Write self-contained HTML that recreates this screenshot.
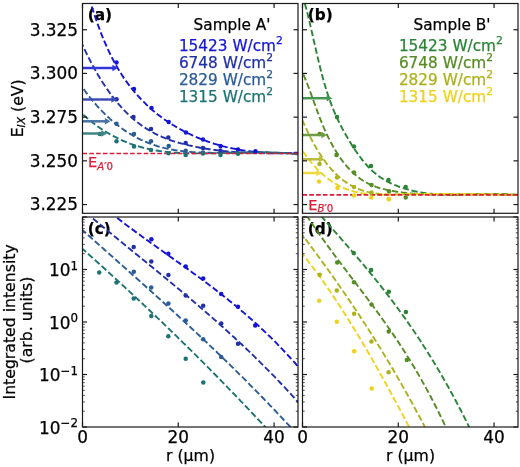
<!DOCTYPE html>
<html><head><meta charset="utf-8"><style>
html,body{margin:0;padding:0;background:#fff;}
svg{display:block;}
</style></head><body>
<svg width="520" height="467" viewBox="0 0 520 467" font-family="'DejaVu Sans', 'Liberation Sans', sans-serif">
<style>text{stroke-width:0.25px;}</style>
<rect width="520" height="467" fill="#fff"/>
<defs>
<clipPath id="ca"><rect x="82.50" y="3.50" width="215.50" height="209.80"/></clipPath>
<clipPath id="cb"><rect x="302.50" y="3.50" width="215.50" height="209.80"/></clipPath>
<clipPath id="cc"><rect x="82.50" y="217.00" width="215.50" height="210.00"/></clipPath>
<clipPath id="cd"><rect x="302.50" y="217.00" width="215.50" height="210.00"/></clipPath>
</defs>
<text x="87.80" y="20.40" font-size="15.30" text-anchor="start" fill="#000" stroke="#000" font-weight="bold" >(a)</text>
<text x="307.70" y="20.40" font-size="15.30" text-anchor="start" fill="#000" stroke="#000" font-weight="bold" >(b)</text>
<text x="87.80" y="233.70" font-size="15.30" text-anchor="start" fill="#000" stroke="#000" font-weight="bold" >(c)</text>
<text x="307.70" y="233.70" font-size="15.30" text-anchor="start" fill="#000" stroke="#000" font-weight="bold" >(d)</text>
<g clip-path="url(#ca)" fill="none" stroke-width="1.90" stroke-dasharray="6.3 2.8">
<path d="M89.1,-2.2 L91.5,5.5 L92.5,8.7 L93.5,11.8 L94.5,14.8 L95.5,17.8 L96.5,20.7 L97.5,23.6 L98.5,26.3 L99.5,29.0 L100.5,31.7 L101.5,34.3 L102.5,36.8 L103.5,39.2 L104.5,41.6 L105.5,43.9 L106.5,46.2 L107.5,48.4 L108.5,50.6 L109.5,52.7 L110.5,54.8 L111.5,56.8 L112.5,58.7 L113.5,60.6 L114.5,62.5 L115.5,64.3 L116.5,66.1 L117.5,67.8 L118.5,69.5 L119.5,71.2 L120.5,72.8 L121.5,74.3 L122.5,75.9 L123.5,77.4 L124.5,78.8 L125.5,80.3 L126.5,81.7 L127.5,83.0 L128.5,84.4 L129.5,85.7 L130.5,87.0 L131.5,88.2 L132.5,89.5 L133.5,90.7 L134.5,91.9 L135.5,93.0 L136.5,94.2 L137.5,95.3 L138.5,96.4 L139.5,97.5 L140.5,98.6 L141.5,99.7 L142.5,100.7 L143.5,101.7 L144.5,102.7 L145.5,103.7 L146.5,104.7 L147.5,105.6 L148.5,106.6 L149.5,107.5 L150.5,108.4 L151.5,109.3 L152.5,110.1 L153.5,111.0 L154.5,111.8 L155.5,112.6 L156.5,113.5 L157.5,114.3 L158.5,115.0 L159.5,115.8 L160.5,116.6 L161.5,117.3 L162.5,118.0 L163.5,118.8 L164.5,119.5 L165.5,120.2 L166.5,120.8 L167.5,121.5 L168.5,122.2 L169.5,122.8 L170.5,123.5 L171.5,124.1 L172.5,124.7 L173.5,125.3 L174.5,125.9 L175.5,126.5 L176.5,127.1 L177.5,127.7 L178.5,128.2 L179.5,128.8 L180.5,129.4 L181.5,129.9 L182.5,130.4 L183.5,131.0 L184.5,131.5 L185.5,132.0 L186.5,132.5 L187.5,133.0 L188.5,133.5 L189.5,134.0 L190.5,134.5 L191.5,134.9 L192.5,135.4 L193.5,135.8 L194.5,136.3 L195.5,136.7 L196.5,137.2 L197.5,137.6 L198.5,138.0 L199.5,138.4 L200.5,138.8 L201.5,139.2 L202.5,139.6 L203.5,140.0 L204.5,140.4 L205.5,140.7 L206.5,141.1 L207.5,141.5 L208.5,141.8 L209.5,142.2 L210.5,142.5 L211.5,142.8 L212.5,143.2 L213.5,143.5 L214.5,143.8 L215.5,144.1 L216.5,144.4 L217.5,144.7 L218.5,145.0 L219.5,145.3 L220.5,145.6 L221.5,145.8 L222.5,146.1 L223.5,146.4 L224.5,146.6 L225.5,146.9 L226.5,147.1 L227.5,147.3 L228.5,147.6 L229.5,147.8 L230.5,148.0 L231.5,148.2 L232.5,148.4 L233.5,148.6 L234.5,148.8 L235.5,149.0 L236.5,149.2 L237.5,149.4 L238.5,149.6 L239.5,149.8 L240.5,149.9 L241.5,150.1 L242.5,150.3 L243.5,150.4 L244.5,150.6 L245.5,150.7 L246.5,150.8 L247.5,151.0 L248.5,151.1 L249.5,151.2 L250.5,151.4 L251.5,151.5 L252.5,151.6 L253.5,151.7 L254.5,151.8 L255.5,151.9 L256.5,152.0 L257.5,152.1 L258.5,152.2 L259.5,152.2 L260.5,152.3 L261.5,152.4 L262.5,152.5 L263.5,152.5 L264.5,152.6 L265.5,152.6 L266.5,152.7 L267.5,152.7 L268.5,152.8 L269.5,152.8 L270.5,152.9 L271.5,152.9 L272.5,152.9 L273.5,153.0 L274.5,153.0 L275.5,153.0 L276.5,153.0 L277.5,153.0 L278.5,153.1 L279.5,153.1 L280.5,153.1 L281.5,153.1 L282.5,153.1 L283.5,153.1 L284.5,153.1 L285.5,153.0 L286.5,153.0 L287.5,153.0 L288.5,153.0 L289.5,153.0 L290.5,152.9 L291.5,152.9 L292.5,152.9 L293.5,152.9 L294.5,152.8 L295.5,152.8 L296.5,152.7 L297.5,152.7 L298.0,152.7 L306.0,152.3" stroke="#1414d6"/>
<path d="M80.6,40.9 L84.0,48.2 L85.0,50.3 L86.0,52.4 L87.0,54.4 L88.0,56.4 L89.0,58.4 L90.0,60.3 L91.0,62.3 L92.0,64.2 L93.0,66.0 L94.0,67.8 L95.0,69.6 L96.0,71.4 L97.0,73.1 L98.0,74.9 L99.0,76.5 L100.0,78.2 L101.0,79.8 L102.0,81.4 L103.0,83.0 L104.0,84.5 L105.0,86.0 L106.0,87.5 L107.0,89.0 L108.0,90.4 L109.0,91.8 L110.0,93.2 L111.0,94.6 L112.0,95.9 L113.0,97.2 L114.0,98.5 L115.0,99.8 L116.0,101.0 L117.0,102.2 L118.0,103.4 L119.0,104.6 L120.0,105.7 L121.0,106.9 L122.0,108.0 L123.0,109.0 L124.0,110.1 L125.0,111.1 L126.0,112.1 L127.0,113.1 L128.0,114.1 L129.0,115.1 L130.0,116.0 L131.0,116.9 L132.0,117.8 L133.0,118.7 L134.0,119.5 L135.0,120.4 L136.0,121.2 L137.0,122.0 L138.0,122.8 L139.0,123.5 L140.0,124.3 L141.0,125.0 L142.0,125.7 L143.0,126.4 L144.0,127.1 L145.0,127.7 L146.0,128.4 L147.0,129.0 L148.0,129.6 L149.0,130.2 L150.0,130.8 L151.0,131.4 L152.0,132.0 L153.0,132.5 L154.0,133.0 L155.0,133.6 L156.0,134.1 L157.0,134.6 L158.0,135.1 L159.0,135.5 L160.0,136.0 L161.0,136.4 L162.0,136.9 L163.0,137.3 L164.0,137.7 L165.0,138.1 L166.0,138.5 L167.0,138.9 L168.0,139.3 L169.0,139.6 L170.0,140.0 L171.0,140.3 L172.0,140.7 L173.0,141.0 L174.0,141.3 L175.0,141.6 L176.0,141.9 L177.0,142.2 L178.0,142.5 L179.0,142.8 L180.0,143.1 L181.0,143.4 L182.0,143.6 L183.0,143.9 L184.0,144.2 L185.0,144.4 L186.0,144.7 L187.0,144.9 L188.0,145.1 L189.0,145.4 L190.0,145.6 L191.0,145.8 L192.0,146.0 L193.0,146.3 L194.0,146.5 L195.0,146.7 L196.0,146.9 L197.0,147.1 L198.0,147.3 L199.0,147.5 L200.0,147.7 L201.0,147.9 L202.0,148.0 L203.0,148.2 L204.0,148.4 L205.0,148.5 L206.0,148.7 L207.0,148.9 L208.0,149.0 L209.0,149.2 L210.0,149.3 L211.0,149.5 L212.0,149.6 L213.0,149.8 L214.0,149.9 L215.0,150.0 L216.0,150.2 L217.0,150.3 L218.0,150.4 L219.0,150.5 L220.0,150.6 L221.0,150.8 L222.0,150.9 L223.0,151.0 L224.0,151.1 L225.0,151.2 L226.0,151.3 L227.0,151.4 L228.0,151.5 L229.0,151.5 L230.0,151.6 L231.0,151.7 L232.0,151.8 L233.0,151.9 L234.0,151.9 L235.0,152.0 L236.0,152.1 L237.0,152.2 L238.0,152.2 L239.0,152.3 L240.0,152.3 L241.0,152.4 L242.0,152.5 L243.0,152.5 L244.0,152.6 L245.0,152.6 L246.0,152.6 L247.0,152.7 L248.0,152.7 L249.0,152.8 L250.0,152.8 L251.0,152.8 L252.0,152.9 L253.0,152.9 L254.0,152.9 L255.0,153.0 L256.0,153.0 L257.0,153.0 L258.0,153.0 L259.0,153.1 L260.0,153.1 L261.0,153.1 L262.0,153.1 L263.0,153.1 L264.0,153.1 L265.0,153.2 L266.0,153.2 L267.0,153.2 L268.0,153.2 L269.0,153.2 L270.0,153.2 L271.0,153.2 L272.0,153.2 L273.0,153.2 L274.0,153.2 L275.0,153.2 L276.0,153.2 L277.0,153.2 L278.0,153.2 L279.0,153.2 L280.0,153.2 L281.0,153.2 L282.0,153.2 L283.0,153.2 L284.0,153.2 L285.0,153.2 L286.0,153.2 L287.0,153.2 L288.0,153.1 L289.0,153.1 L290.0,153.1 L291.0,153.1 L292.0,153.1 L293.0,153.1 L294.0,153.1 L295.0,153.1 L296.0,153.1 L297.0,153.0 L298.0,153.0 L306.0,152.9" stroke="#2030a8"/>
<path d="M78.3,81.8 L83.0,88.2 L84.0,89.6 L85.0,91.0 L86.0,92.3 L87.0,93.6 L88.0,94.9 L89.0,96.2 L90.0,97.5 L91.0,98.7 L92.0,99.9 L93.0,101.1 L94.0,102.3 L95.0,103.5 L96.0,104.6 L97.0,105.8 L98.0,106.9 L99.0,108.0 L100.0,109.0 L101.0,110.1 L102.0,111.1 L103.0,112.2 L104.0,113.2 L105.0,114.2 L106.0,115.1 L107.0,116.1 L108.0,117.0 L109.0,117.9 L110.0,118.9 L111.0,119.7 L112.0,120.6 L113.0,121.5 L114.0,122.3 L115.0,123.2 L116.0,124.0 L117.0,124.8 L118.0,125.6 L119.0,126.3 L120.0,127.1 L121.0,127.8 L122.0,128.5 L123.0,129.3 L124.0,129.9 L125.0,130.6 L126.0,131.3 L127.0,132.0 L128.0,132.6 L129.0,133.2 L130.0,133.8 L131.0,134.4 L132.0,135.0 L133.0,135.6 L134.0,136.2 L135.0,136.7 L136.0,137.3 L137.0,137.8 L138.0,138.3 L139.0,138.8 L140.0,139.3 L141.0,139.8 L142.0,140.2 L143.0,140.7 L144.0,141.1 L145.0,141.6 L146.0,142.0 L147.0,142.4 L148.0,142.8 L149.0,143.2 L150.0,143.6 L151.0,143.9 L152.0,144.3 L153.0,144.7 L154.0,145.0 L155.0,145.3 L156.0,145.6 L157.0,146.0 L158.0,146.3 L159.0,146.6 L160.0,146.8 L161.0,147.1 L162.0,147.4 L163.0,147.6 L164.0,147.9 L165.0,148.1 L166.0,148.4 L167.0,148.6 L168.0,148.8 L169.0,149.0 L170.0,149.2 L171.0,149.4 L172.0,149.6 L173.0,149.8 L174.0,150.0 L175.0,150.1 L176.0,150.3 L177.0,150.4 L178.0,150.6 L179.0,150.7 L180.0,150.9 L181.0,151.0 L182.0,151.1 L183.0,151.2 L184.0,151.4 L185.0,151.5 L186.0,151.6 L187.0,151.7 L188.0,151.8 L189.0,151.8 L190.0,151.9 L191.0,152.0 L192.0,152.1 L193.0,152.1 L194.0,152.2 L195.0,152.3 L196.0,152.3 L197.0,152.4 L198.0,152.4 L199.0,152.5 L200.0,152.5 L201.0,152.6 L202.0,152.6 L203.0,152.6 L204.0,152.7 L205.0,152.7 L206.0,152.7 L207.0,152.8 L208.0,152.8 L209.0,152.8 L210.0,152.8 L211.0,152.8 L212.0,152.9 L213.0,152.9 L214.0,152.9 L215.0,152.9 L216.0,152.9 L217.0,152.9 L218.0,152.9 L219.0,152.9 L220.0,152.9 L221.0,152.9 L222.0,152.9 L223.0,152.9 L224.0,152.9 L225.0,152.9 L226.0,152.9 L227.0,152.8 L228.0,152.8 L229.0,152.8 L230.0,152.8 L231.0,152.8 L232.0,152.8 L233.0,152.8 L234.0,152.8 L235.0,152.7 L236.0,152.7 L237.0,152.7 L238.0,152.7 L239.0,152.7 L240.0,152.7 L241.0,152.6 L242.0,152.6 L243.0,152.6 L244.0,152.6 L245.0,152.6 L246.0,152.6 L247.0,152.5 L248.0,152.5 L249.0,152.5 L250.0,152.5 L251.0,152.5 L252.0,152.5 L253.0,152.5 L254.0,152.5 L255.0,152.4 L256.0,152.4 L257.0,152.4 L258.0,152.4 L259.0,152.4 L260.0,152.4 L261.0,152.4 L262.0,152.4 L263.0,152.4 L264.0,152.4 L265.0,152.4 L266.0,152.5 L267.0,152.5 L268.0,152.5 L269.0,152.5 L270.0,152.5 L271.0,152.5 L272.0,152.5 L273.0,152.6 L274.0,152.6 L275.0,152.6 L276.0,152.7 L277.0,152.7 L278.0,152.7 L279.0,152.8 L280.0,152.8 L281.0,152.9 L282.0,152.9 L283.0,153.0 L284.0,153.0 L285.0,153.1 L286.0,153.1 L287.0,153.2 L288.0,153.3 L289.0,153.4 L290.0,153.4 L291.0,153.5 L292.0,153.6 L293.0,153.7 L294.0,153.8 L295.0,153.9 L296.0,154.0 L297.0,154.1 L298.0,154.2 L305.9,155.1" stroke="#2a5c98"/>
<path d="M76.6,108.6 L82.5,114.0 L83.5,115.0 L84.5,115.8 L85.5,116.7 L86.5,117.6 L87.5,118.4 L88.5,119.3 L89.5,120.1 L90.5,120.9 L91.5,121.7 L92.5,122.5 L93.5,123.3 L94.5,124.0 L95.5,124.8 L96.5,125.5 L97.5,126.3 L98.5,127.0 L99.5,127.7 L100.5,128.4 L101.5,129.0 L102.5,129.7 L103.5,130.3 L104.5,131.0 L105.5,131.6 L106.5,132.2 L107.5,132.8 L108.5,133.4 L109.5,134.0 L110.5,134.6 L111.5,135.1 L112.5,135.7 L113.5,136.2 L114.5,136.7 L115.5,137.2 L116.5,137.7 L117.5,138.2 L118.5,138.7 L119.5,139.2 L120.5,139.7 L121.5,140.1 L122.5,140.6 L123.5,141.0 L124.5,141.4 L125.5,141.8 L126.5,142.2 L127.5,142.6 L128.5,143.0 L129.5,143.4 L130.5,143.8 L131.5,144.1 L132.5,144.5 L133.5,144.8 L134.5,145.1 L135.5,145.5 L136.5,145.8 L137.5,146.1 L138.5,146.4 L139.5,146.7 L140.5,147.0 L141.5,147.2 L142.5,147.5 L143.5,147.8 L144.5,148.0 L145.5,148.3 L146.5,148.5 L147.5,148.7 L148.5,149.0 L149.5,149.2 L150.5,149.4 L151.5,149.6 L152.5,149.8 L153.5,150.0 L154.5,150.2 L155.5,150.3 L156.5,150.5 L157.5,150.7 L158.5,150.8 L159.5,151.0 L160.5,151.1 L161.5,151.3 L162.5,151.4 L163.5,151.5 L164.5,151.7 L165.5,151.8 L166.5,151.9 L167.5,152.0 L168.5,152.1 L169.5,152.2 L170.5,152.3 L171.5,152.4 L172.5,152.5 L173.5,152.5 L174.5,152.6 L175.5,152.7 L176.5,152.8 L177.5,152.8 L178.5,152.9 L179.5,152.9 L180.5,153.0 L181.5,153.0 L182.5,153.1 L183.5,153.1 L184.5,153.2 L185.5,153.2 L186.5,153.2 L187.5,153.2 L188.5,153.3 L189.5,153.3 L190.5,153.3 L191.5,153.3 L192.5,153.3 L193.5,153.4 L194.5,153.4 L195.5,153.4 L196.5,153.4 L197.5,153.4 L198.5,153.4 L199.5,153.4 L200.5,153.4 L201.5,153.4 L202.5,153.4 L203.5,153.4 L204.5,153.4 L205.5,153.4 L206.5,153.3 L207.5,153.3 L208.5,153.3 L209.5,153.3 L210.5,153.3 L211.5,153.3 L212.5,153.2 L213.5,153.2 L214.5,153.2 L215.5,153.2 L216.5,153.2 L217.5,153.1 L218.5,153.1 L219.5,153.1 L220.5,153.1 L221.5,153.0 L222.5,153.0 L223.5,153.0 L224.5,153.0 L225.5,152.9 L226.5,152.9 L227.5,152.9 L228.5,152.8 L229.5,152.8 L230.5,152.8 L231.5,152.8 L232.5,152.7 L233.5,152.7 L234.5,152.7 L235.5,152.7 L236.5,152.6 L237.5,152.6 L238.5,152.6 L239.5,152.6 L240.5,152.5 L241.5,152.5 L242.5,152.5 L243.5,152.5 L244.5,152.4 L245.5,152.4 L246.5,152.4 L247.5,152.4 L248.5,152.4 L249.5,152.4 L250.5,152.3 L251.5,152.3 L252.5,152.3 L253.5,152.3 L254.5,152.3 L255.5,152.3 L256.5,152.3 L257.5,152.3 L258.5,152.3 L259.5,152.3 L260.5,152.3 L261.5,152.3 L262.5,152.3 L263.5,152.3 L264.5,152.3 L265.5,152.3 L266.5,152.4 L267.5,152.4 L268.5,152.4 L269.5,152.4 L270.5,152.4 L271.5,152.5 L272.5,152.5 L273.5,152.5 L274.5,152.6 L275.5,152.6 L276.5,152.6 L277.5,152.7 L278.5,152.7 L279.5,152.8 L280.5,152.8 L281.5,152.9 L282.5,153.0 L283.5,153.0 L284.5,153.1 L285.5,153.2 L286.5,153.2 L287.5,153.3 L288.5,153.4 L289.5,153.5 L290.5,153.6 L291.5,153.7 L292.5,153.8 L293.5,153.9 L294.5,154.0 L295.5,154.1 L296.5,154.2 L297.5,154.3 L298.0,154.4 L305.9,155.4" stroke="#1d7373"/>
</g>
<line x1="82.50" y1="153.50" x2="298.00" y2="153.50" stroke="#dc1c38" stroke-width="1.6" stroke-dasharray="4.6 2.2"/>
<g clip-path="url(#ca)">
<circle cx="116.50" cy="62.50" r="2.25" fill="#1414d6"/>
<circle cx="134.00" cy="89.00" r="2.25" fill="#1414d6"/>
<circle cx="151.50" cy="108.00" r="2.25" fill="#1414d6"/>
<circle cx="168.70" cy="122.00" r="2.25" fill="#1414d6"/>
<circle cx="186.00" cy="132.50" r="2.25" fill="#1414d6"/>
<circle cx="203.00" cy="139.50" r="2.25" fill="#1414d6"/>
<circle cx="220.50" cy="146.00" r="2.25" fill="#1414d6"/>
<circle cx="238.00" cy="149.50" r="2.25" fill="#1414d6"/>
<circle cx="255.50" cy="151.30" r="2.25" fill="#1414d6"/>
<circle cx="116.50" cy="99.30" r="2.25" fill="#2030a8"/>
<circle cx="133.50" cy="117.00" r="2.25" fill="#2030a8"/>
<circle cx="151.00" cy="129.00" r="2.25" fill="#2030a8"/>
<circle cx="168.30" cy="137.50" r="2.25" fill="#2030a8"/>
<circle cx="185.70" cy="143.00" r="2.25" fill="#2030a8"/>
<circle cx="203.00" cy="148.00" r="2.25" fill="#2030a8"/>
<circle cx="220.50" cy="150.50" r="2.25" fill="#2030a8"/>
<circle cx="116.50" cy="123.80" r="2.25" fill="#2a5c98"/>
<circle cx="134.00" cy="134.00" r="2.25" fill="#2a5c98"/>
<circle cx="151.00" cy="141.30" r="2.25" fill="#2a5c98"/>
<circle cx="168.70" cy="146.00" r="2.25" fill="#2a5c98"/>
<circle cx="185.70" cy="150.80" r="2.25" fill="#2a5c98"/>
<circle cx="203.00" cy="152.50" r="2.25" fill="#2a5c98"/>
<circle cx="99.80" cy="134.00" r="2.25" fill="#1d7373"/>
<circle cx="116.50" cy="141.30" r="2.25" fill="#1d7373"/>
<circle cx="134.00" cy="146.50" r="2.25" fill="#1d7373"/>
<circle cx="151.00" cy="150.00" r="2.25" fill="#1d7373"/>
<circle cx="168.50" cy="153.20" r="2.25" fill="#1d7373"/>
<circle cx="185.70" cy="155.00" r="2.25" fill="#1d7373"/>
<circle cx="203.00" cy="153.50" r="2.25" fill="#1d7373"/>
<circle cx="220.50" cy="155.00" r="2.25" fill="#1d7373"/>
<circle cx="238.00" cy="153.80" r="2.25" fill="#1d7373"/>
</g>
<line x1="82.50" y1="68.00" x2="113.40" y2="68.00" stroke="#3434db" stroke-width="2.5"/>
<path d="M112.40,64.80 L118.00,68.00 L112.40,71.20 Z" fill="#3434db"/>
<line x1="82.50" y1="99.50" x2="112.40" y2="99.50" stroke="#3f4cb4" stroke-width="2.5"/>
<path d="M111.40,96.30 L117.00,99.50 L111.40,102.70 Z" fill="#3f4cb4"/>
<line x1="82.50" y1="121.30" x2="105.90" y2="121.30" stroke="#4772a6" stroke-width="2.5"/>
<path d="M104.90,118.10 L110.50,121.30 L104.90,124.50 Z" fill="#4772a6"/>
<line x1="82.50" y1="133.50" x2="102.40" y2="133.50" stroke="#3c8686" stroke-width="2.5"/>
<path d="M101.40,130.30 L107.00,133.50 L101.40,136.70 Z" fill="#3c8686"/>
<g clip-path="url(#cb)" fill="none" stroke-width="1.90" stroke-dasharray="6.3 2.8">
<path d="M302.3,-5.4 L304.5,2.3 L305.5,5.9 L306.5,9.7 L307.5,13.6 L308.5,17.7 L309.5,21.8 L310.5,26.1 L311.5,30.4 L312.5,34.8 L313.5,39.2 L314.5,43.6 L315.5,47.9 L316.5,52.3 L317.5,56.6 L318.5,60.8 L319.5,64.9 L320.5,68.9 L321.5,72.8 L322.5,76.6 L323.5,80.3 L324.5,83.8 L325.5,87.2 L326.5,90.4 L327.5,93.5 L328.5,96.5 L329.5,99.4 L330.5,102.2 L331.5,104.8 L332.5,107.4 L333.5,109.9 L334.5,112.3 L335.5,114.6 L336.5,116.8 L337.5,119.0 L338.5,121.1 L339.5,123.1 L340.5,125.1 L341.5,127.0 L342.5,128.9 L343.5,130.7 L344.5,132.5 L345.5,134.3 L346.5,136.1 L347.5,137.8 L348.5,139.5 L349.5,141.2 L350.5,142.8 L351.5,144.4 L352.5,146.0 L353.5,147.5 L354.5,149.1 L355.5,150.6 L356.5,152.0 L357.5,153.4 L358.5,154.8 L359.5,156.2 L360.5,157.5 L361.5,158.8 L362.5,160.1 L363.5,161.4 L364.5,162.6 L365.5,163.7 L366.5,164.9 L367.5,166.0 L368.5,167.0 L369.5,168.1 L370.5,169.1 L371.5,170.0 L372.5,171.0 L373.5,171.9 L374.5,172.8 L375.5,173.6 L376.5,174.4 L377.5,175.2 L378.5,175.9 L379.5,176.7 L380.5,177.4 L381.5,178.0 L382.5,178.7 L383.5,179.3 L384.5,179.9 L385.5,180.5 L386.5,181.1 L387.5,181.6 L388.5,182.1 L389.5,182.6 L390.5,183.1 L391.5,183.6 L392.5,184.1 L393.5,184.5 L394.5,184.9 L395.5,185.3 L396.5,185.7 L397.5,186.1 L398.5,186.5 L399.5,186.9 L400.5,187.2 L401.5,187.6 L402.5,187.9 L403.5,188.2 L404.5,188.6 L405.5,188.9 L406.5,189.2 L407.5,189.4 L408.5,189.7 L409.5,190.0 L410.5,190.2 L411.5,190.5 L412.5,190.7 L413.5,191.0 L414.5,191.2 L415.5,191.4 L416.5,191.6 L417.5,191.8 L418.5,192.0 L419.5,192.2 L420.5,192.4 L421.5,192.5 L422.5,192.7 L423.5,192.9 L424.5,193.0 L425.5,193.1 L426.5,193.3 L427.5,193.4 L428.5,193.5 L429.5,193.6 L430.5,193.7 L431.5,193.8 L432.5,193.9 L433.5,194.0 L434.5,194.1 L435.5,194.2 L436.5,194.3 L437.5,194.3 L438.5,194.4 L439.5,194.4 L440.5,194.5 L441.5,194.5 L442.5,194.6 L443.5,194.6 L444.5,194.7 L445.5,194.7 L446.5,194.7 L447.5,194.7 L448.5,194.8 L449.5,194.8 L450.5,194.8 L451.5,194.8 L452.5,194.8 L453.5,194.8 L454.5,194.8 L455.5,194.8 L456.5,194.8 L457.5,194.8 L458.5,194.8 L459.5,194.7 L460.5,194.7 L461.5,194.7 L462.5,194.7 L463.5,194.7 L464.5,194.7 L465.5,194.6 L466.5,194.6 L467.5,194.6 L468.5,194.6 L469.5,194.5 L470.5,194.5 L471.5,194.5 L472.5,194.4 L473.5,194.4 L474.5,194.4 L475.5,194.4 L476.5,194.3 L477.5,194.3 L478.5,194.3 L479.5,194.2 L480.5,194.2 L481.5,194.2 L482.5,194.2 L483.5,194.1 L484.5,194.1 L485.5,194.1 L486.5,194.1 L487.5,194.1 L488.5,194.1 L489.5,194.0 L490.5,194.0 L491.5,194.0 L492.5,194.0 L493.5,194.0 L494.5,194.0 L495.5,194.0 L496.5,194.0 L497.5,194.0 L498.5,194.0 L499.5,194.1 L500.5,194.1 L501.5,194.1 L502.5,194.1 L503.5,194.2 L504.5,194.2 L505.5,194.2 L506.5,194.3 L507.5,194.3 L508.5,194.4 L509.5,194.5 L510.5,194.5 L511.5,194.6 L512.5,194.7 L513.5,194.7 L514.5,194.8 L515.5,194.9 L516.5,195.0 L517.5,195.1 L518.0,195.2 L526.0,196.0" stroke="#2a8436"/>
<path d="M299.6,66.2 L302.9,73.5 L303.9,75.7 L304.9,78.1 L305.9,80.5 L306.9,83.0 L307.9,85.5 L308.9,88.2 L309.9,90.8 L310.9,93.6 L311.9,96.3 L312.9,99.1 L313.9,101.8 L314.9,104.6 L315.9,107.3 L316.9,110.1 L317.9,112.8 L318.9,115.5 L319.9,118.1 L320.9,120.6 L321.9,123.1 L322.9,125.5 L323.9,127.9 L324.9,130.1 L325.9,132.3 L326.9,134.5 L327.9,136.6 L328.9,138.6 L329.9,140.6 L330.9,142.5 L331.9,144.3 L332.9,146.1 L333.9,147.9 L334.9,149.6 L335.9,151.2 L336.9,152.8 L337.9,154.4 L338.9,155.9 L339.9,157.3 L340.9,158.8 L341.9,160.1 L342.9,161.5 L343.9,162.8 L344.9,164.0 L345.9,165.2 L346.9,166.4 L347.9,167.5 L348.9,168.6 L349.9,169.7 L350.9,170.7 L351.9,171.7 L352.9,172.7 L353.9,173.6 L354.9,174.5 L355.9,175.3 L356.9,176.2 L357.9,177.0 L358.9,177.7 L359.9,178.5 L360.9,179.2 L361.9,179.8 L362.9,180.5 L363.9,181.1 L364.9,181.7 L365.9,182.3 L366.9,182.8 L367.9,183.4 L368.9,183.9 L369.9,184.3 L370.9,184.8 L371.9,185.2 L372.9,185.7 L373.9,186.1 L374.9,186.4 L375.9,186.8 L376.9,187.1 L377.9,187.5 L378.9,187.8 L379.9,188.1 L380.9,188.4 L381.9,188.7 L382.9,188.9 L383.9,189.2 L384.9,189.4 L385.9,189.6 L386.9,189.9 L387.9,190.1 L388.9,190.3 L389.9,190.5 L390.9,190.7 L391.9,190.9 L392.9,191.0 L393.9,191.2 L394.9,191.4 L395.9,191.5 L396.9,191.7 L397.9,191.9 L398.9,192.0 L399.9,192.2 L400.9,192.3 L401.9,192.4 L402.9,192.6 L403.9,192.7 L404.9,192.8 L405.9,192.9 L406.9,193.0 L407.9,193.1 L408.9,193.2 L409.9,193.3 L410.9,193.4 L411.9,193.5 L412.9,193.6 L413.9,193.7 L414.9,193.8 L415.9,193.9 L416.9,193.9 L417.9,194.0 L418.9,194.1 L419.9,194.1 L420.9,194.2 L421.9,194.2 L422.9,194.3 L423.9,194.3 L424.9,194.4 L425.9,194.4 L426.9,194.5 L427.9,194.5 L428.9,194.5 L429.9,194.6 L430.9,194.6 L431.9,194.6 L432.9,194.6 L433.9,194.7 L434.9,194.7 L435.9,194.7 L436.9,194.7 L437.9,194.7 L438.9,194.7 L439.9,194.7 L440.9,194.7 L441.9,194.7 L442.9,194.7 L443.9,194.7 L444.9,194.7 L445.9,194.7 L446.9,194.7 L447.9,194.7 L448.9,194.7 L449.9,194.7 L450.9,194.7 L451.9,194.7 L452.9,194.7 L453.9,194.7 L454.9,194.6 L455.9,194.6 L456.9,194.6 L457.9,194.6 L458.9,194.6 L459.9,194.6 L460.9,194.5 L461.9,194.5 L462.9,194.5 L463.9,194.5 L464.9,194.5 L465.9,194.4 L466.9,194.4 L467.9,194.4 L468.9,194.4 L469.9,194.4 L470.9,194.3 L471.9,194.3 L472.9,194.3 L473.9,194.3 L474.9,194.3 L475.9,194.2 L476.9,194.2 L477.9,194.2 L478.9,194.2 L479.9,194.2 L480.9,194.2 L481.9,194.1 L482.9,194.1 L483.9,194.1 L484.9,194.1 L485.9,194.1 L486.9,194.1 L487.9,194.1 L488.9,194.1 L489.9,194.1 L490.9,194.1 L491.9,194.1 L492.9,194.1 L493.9,194.1 L494.9,194.1 L495.9,194.1 L496.9,194.1 L497.9,194.1 L498.9,194.2 L499.9,194.2 L500.9,194.2 L501.9,194.2 L502.9,194.2 L503.9,194.3 L504.9,194.3 L505.9,194.3 L506.9,194.4 L507.9,194.4 L508.9,194.5 L509.9,194.5 L510.9,194.6 L511.9,194.6 L512.9,194.7 L513.9,194.7 L514.9,194.8 L515.9,194.8 L516.9,194.9 L517.9,195.0 L518.0,195.0 L526.0,195.6" stroke="#568c24"/>
<path d="M302.2,119.8 L305.5,127.1 L306.5,129.2 L307.5,131.4 L308.5,133.5 L309.5,135.5 L310.5,137.5 L311.5,139.4 L312.5,141.3 L313.5,143.2 L314.5,145.0 L315.5,146.7 L316.5,148.5 L317.5,150.1 L318.5,151.8 L319.5,153.3 L320.5,154.9 L321.5,156.4 L322.5,157.9 L323.5,159.3 L324.5,160.7 L325.5,162.0 L326.5,163.3 L327.5,164.6 L328.5,165.9 L329.5,167.1 L330.5,168.2 L331.5,169.4 L332.5,170.5 L333.5,171.5 L334.5,172.5 L335.5,173.5 L336.5,174.5 L337.5,175.5 L338.5,176.4 L339.5,177.2 L340.5,178.1 L341.5,178.9 L342.5,179.7 L343.5,180.5 L344.5,181.2 L345.5,181.9 L346.5,182.6 L347.5,183.3 L348.5,183.9 L349.5,184.5 L350.5,185.1 L351.5,185.7 L352.5,186.2 L353.5,186.7 L354.5,187.2 L355.5,187.7 L356.5,188.1 L357.5,188.6 L358.5,189.0 L359.5,189.4 L360.5,189.8 L361.5,190.1 L362.5,190.5 L363.5,190.8 L364.5,191.1 L365.5,191.4 L366.5,191.7 L367.5,191.9 L368.5,192.2 L369.5,192.4 L370.5,192.6 L371.5,192.8 L372.5,193.0 L373.5,193.1 L374.5,193.3 L375.5,193.4 L376.5,193.6 L377.5,193.7 L378.5,193.8 L379.5,193.9 L380.5,194.0 L381.5,194.1 L382.5,194.2 L383.5,194.2 L384.5,194.3 L385.5,194.3 L386.5,194.4 L387.5,194.4 L388.5,194.4 L389.5,194.4 L390.5,194.4 L391.5,194.5 L392.5,194.5 L393.5,194.5 L394.5,194.5 L395.5,194.4 L396.5,194.4 L397.5,194.4 L398.5,194.4 L399.5,194.4 L400.5,194.4 L401.5,194.4 L402.5,194.3 L403.5,194.3 L404.5,194.3 L405.5,194.3 L406.5,194.3 L407.5,194.3 L408.5,194.2 L409.5,194.2 L410.5,194.2 L411.5,194.2 L412.5,194.2 L413.5,194.2 L414.5,194.2 L415.5,194.2 L416.5,194.2 L417.5,194.1 L418.5,194.1 L419.5,194.1 L420.5,194.1 L421.5,194.1 L422.5,194.1 L423.5,194.1 L424.5,194.1 L425.5,194.1 L426.5,194.1 L427.5,194.1 L428.5,194.1 L429.5,194.1 L430.5,194.1 L431.5,194.1 L432.5,194.1 L433.5,194.1 L434.5,194.1 L435.5,194.1 L436.5,194.1 L437.5,194.1 L438.5,194.1 L439.5,194.1 L440.5,194.1 L441.5,194.1 L442.5,194.1 L443.5,194.1 L444.5,194.1 L445.5,194.1 L446.5,194.1 L447.5,194.1 L448.5,194.2 L449.5,194.2 L450.5,194.2 L451.5,194.2 L452.5,194.2 L453.5,194.2 L454.5,194.2 L455.5,194.2 L456.5,194.2 L457.5,194.2 L458.5,194.2 L459.5,194.2 L460.5,194.2 L461.5,194.3 L462.5,194.3 L463.5,194.3 L464.5,194.3 L465.5,194.3 L466.5,194.3 L467.5,194.3 L468.5,194.3 L469.5,194.3 L470.5,194.3 L471.5,194.4 L472.5,194.4 L473.5,194.4 L474.5,194.4 L475.5,194.4 L476.5,194.4 L477.5,194.4 L478.5,194.4 L479.5,194.4 L480.5,194.4 L481.5,194.4 L482.5,194.5 L483.5,194.5 L484.5,194.5 L485.5,194.5 L486.5,194.5 L487.5,194.5 L488.5,194.5 L489.5,194.5 L490.5,194.5 L491.5,194.5 L492.5,194.5 L493.5,194.5 L494.5,194.6 L495.5,194.6 L496.5,194.6 L497.5,194.6 L498.5,194.6 L499.5,194.6 L500.5,194.6 L501.5,194.6 L502.5,194.6 L503.5,194.6 L504.5,194.6 L505.5,194.6 L506.5,194.6 L507.5,194.6 L508.5,194.6 L509.5,194.6 L510.5,194.6 L511.5,194.6 L512.5,194.6 L513.5,194.6 L514.5,194.6 L515.5,194.6 L516.5,194.6 L517.5,194.6 L518.0,194.6 L526.0,194.6" stroke="#acb21c"/>
<path d="M298.0,144.0 L302.5,150.6 L303.5,152.1 L304.5,153.5 L305.5,154.9 L306.5,156.3 L307.5,157.6 L308.5,158.9 L309.5,160.2 L310.5,161.4 L311.5,162.6 L312.5,163.8 L313.5,165.0 L314.5,166.1 L315.5,167.2 L316.5,168.3 L317.5,169.3 L318.5,170.3 L319.5,171.3 L320.5,172.3 L321.5,173.2 L322.5,174.1 L323.5,175.0 L324.5,175.9 L325.5,176.7 L326.5,177.5 L327.5,178.3 L328.5,179.0 L329.5,179.8 L330.5,180.5 L331.5,181.2 L332.5,181.9 L333.5,182.5 L334.5,183.1 L335.5,183.8 L336.5,184.3 L337.5,184.9 L338.5,185.4 L339.5,186.0 L340.5,186.5 L341.5,187.0 L342.5,187.4 L343.5,187.9 L344.5,188.3 L345.5,188.7 L346.5,189.1 L347.5,189.5 L348.5,189.9 L349.5,190.2 L350.5,190.5 L351.5,190.8 L352.5,191.1 L353.5,191.4 L354.5,191.7 L355.5,192.0 L356.5,192.2 L357.5,192.4 L358.5,192.6 L359.5,192.8 L360.5,193.0 L361.5,193.2 L362.5,193.4 L363.5,193.5 L364.5,193.7 L365.5,193.8 L366.5,193.9 L367.5,194.0 L368.5,194.1 L369.5,194.2 L370.5,194.3 L371.5,194.4 L372.5,194.5 L373.5,194.5 L374.5,194.6 L375.5,194.6 L376.5,194.6 L377.5,194.7 L378.5,194.7 L379.5,194.7 L380.5,194.7 L381.5,194.7 L382.5,194.7 L383.5,194.7 L384.5,194.7 L385.5,194.7 L386.5,194.7 L387.5,194.7 L388.5,194.7 L389.5,194.7 L390.5,194.6 L391.5,194.6 L392.5,194.6 L393.5,194.6 L394.5,194.5 L395.5,194.5 L396.5,194.5 L397.5,194.5 L398.5,194.4 L399.5,194.4 L400.5,194.4 L401.5,194.4 L402.5,194.3 L403.5,194.3 L404.5,194.3 L405.5,194.3 L406.5,194.3 L407.5,194.2 L408.5,194.2 L409.5,194.2 L410.5,194.2 L411.5,194.2 L412.5,194.2 L413.5,194.1 L414.5,194.1 L415.5,194.1 L416.5,194.1 L417.5,194.1 L418.5,194.1 L419.5,194.1 L420.5,194.1 L421.5,194.1 L422.5,194.0 L423.5,194.0 L424.5,194.0 L425.5,194.0 L426.5,194.0 L427.5,194.0 L428.5,194.0 L429.5,194.0 L430.5,194.0 L431.5,194.0 L432.5,194.0 L433.5,194.0 L434.5,194.0 L435.5,194.0 L436.5,194.0 L437.5,194.0 L438.5,194.0 L439.5,194.0 L440.5,194.0 L441.5,194.0 L442.5,194.0 L443.5,194.0 L444.5,194.0 L445.5,194.0 L446.5,194.0 L447.5,194.0 L448.5,194.0 L449.5,194.0 L450.5,194.0 L451.5,194.0 L452.5,194.0 L453.5,194.0 L454.5,194.1 L455.5,194.1 L456.5,194.1 L457.5,194.1 L458.5,194.1 L459.5,194.1 L460.5,194.1 L461.5,194.1 L462.5,194.1 L463.5,194.1 L464.5,194.1 L465.5,194.1 L466.5,194.2 L467.5,194.2 L468.5,194.2 L469.5,194.2 L470.5,194.2 L471.5,194.2 L472.5,194.2 L473.5,194.2 L474.5,194.2 L475.5,194.3 L476.5,194.3 L477.5,194.3 L478.5,194.3 L479.5,194.3 L480.5,194.3 L481.5,194.3 L482.5,194.3 L483.5,194.3 L484.5,194.4 L485.5,194.4 L486.5,194.4 L487.5,194.4 L488.5,194.4 L489.5,194.4 L490.5,194.4 L491.5,194.4 L492.5,194.5 L493.5,194.5 L494.5,194.5 L495.5,194.5 L496.5,194.5 L497.5,194.5 L498.5,194.5 L499.5,194.5 L500.5,194.6 L501.5,194.6 L502.5,194.6 L503.5,194.6 L504.5,194.6 L505.5,194.6 L506.5,194.6 L507.5,194.6 L508.5,194.6 L509.5,194.7 L510.5,194.7 L511.5,194.7 L512.5,194.7 L513.5,194.7 L514.5,194.7 L515.5,194.7 L516.5,194.7 L517.5,194.7 L518.0,194.7 L526.0,194.8" stroke="#efd21c"/>
</g>
<line x1="302.50" y1="194.90" x2="518.00" y2="194.90" stroke="#dc1c38" stroke-width="1.6" stroke-dasharray="4.6 2.2"/>
<g clip-path="url(#cb)">
<circle cx="337.00" cy="117.00" r="2.25" fill="#2a8436"/>
<circle cx="354.00" cy="146.50" r="2.25" fill="#2a8436"/>
<circle cx="371.00" cy="166.00" r="2.25" fill="#2a8436"/>
<circle cx="388.50" cy="180.00" r="2.25" fill="#2a8436"/>
<circle cx="405.70" cy="187.00" r="2.25" fill="#2a8436"/>
<circle cx="319.60" cy="134.00" r="2.25" fill="#568c24"/>
<circle cx="336.50" cy="155.00" r="2.25" fill="#568c24"/>
<circle cx="354.00" cy="172.50" r="2.25" fill="#568c24"/>
<circle cx="371.50" cy="185.00" r="2.25" fill="#568c24"/>
<circle cx="389.00" cy="191.30" r="2.25" fill="#568c24"/>
<circle cx="405.70" cy="197.60" r="2.25" fill="#568c24"/>
<circle cx="319.50" cy="164.00" r="2.25" fill="#acb21c"/>
<circle cx="337.00" cy="177.50" r="2.25" fill="#acb21c"/>
<circle cx="354.00" cy="187.00" r="2.25" fill="#acb21c"/>
<circle cx="371.50" cy="192.50" r="2.25" fill="#acb21c"/>
<circle cx="388.80" cy="199.00" r="2.25" fill="#acb21c"/>
<circle cx="319.00" cy="181.50" r="2.25" fill="#efd21c"/>
<circle cx="337.50" cy="188.00" r="2.25" fill="#efd21c"/>
<circle cx="354.00" cy="195.50" r="2.25" fill="#efd21c"/>
<circle cx="371.30" cy="197.60" r="2.25" fill="#efd21c"/>
<circle cx="389.00" cy="199.30" r="2.25" fill="#efd21c"/>
</g>
<line x1="302.50" y1="98.20" x2="327.70" y2="98.20" stroke="#479552" stroke-width="2.5"/>
<path d="M326.70,95.00 L332.30,98.20 L326.70,101.40 Z" fill="#479552"/>
<line x1="302.50" y1="135.00" x2="322.40" y2="135.00" stroke="#6d9c42" stroke-width="2.5"/>
<path d="M321.40,131.80 L327.00,135.00 L321.40,138.20 Z" fill="#6d9c42"/>
<line x1="302.50" y1="159.30" x2="319.90" y2="159.30" stroke="#b7bc3b" stroke-width="2.5"/>
<path d="M318.90,156.10 L324.50,159.30 L318.90,162.50 Z" fill="#b7bc3b"/>
<line x1="302.50" y1="173.00" x2="317.40" y2="173.00" stroke="#f1d83b" stroke-width="2.5"/>
<path d="M316.40,169.80 L322.00,173.00 L316.40,176.20 Z" fill="#f1d83b"/>
<g clip-path="url(#cc)" fill="none" stroke-width="1.90" stroke-dasharray="6.3 2.8">
<path d="M110.0,212.3 L111.0,213.1 L112.0,213.9 L113.0,214.7 L114.0,215.5 L115.0,216.3 L116.0,217.0 L117.0,217.8 L118.0,218.6 L119.0,219.3 L120.0,220.1 L121.0,220.9 L122.0,221.6 L123.0,222.4 L124.0,223.2 L125.0,223.9 L126.0,224.7 L127.0,225.4 L128.0,226.2 L129.0,226.9 L130.0,227.7 L131.0,228.4 L132.0,229.1 L133.0,229.9 L134.0,230.6 L135.0,231.4 L136.0,232.1 L137.0,232.8 L138.0,233.6 L139.0,234.3 L140.0,235.0 L141.0,235.7 L142.0,236.5 L143.0,237.2 L144.0,237.9 L145.0,238.6 L146.0,239.4 L147.0,240.1 L148.0,240.8 L149.0,241.5 L150.0,242.2 L151.0,243.0 L152.0,243.7 L153.0,244.4 L154.0,245.1 L155.0,245.8 L156.0,246.5 L157.0,247.2 L158.0,247.9 L159.0,248.7 L160.0,249.4 L161.0,250.1 L162.0,250.8 L163.0,251.5 L164.0,252.2 L165.0,252.9 L166.0,253.6 L167.0,254.3 L168.0,255.1 L169.0,255.8 L170.0,256.5 L171.0,257.2 L172.0,257.9 L173.0,258.6 L174.0,259.3 L175.0,260.0 L176.0,260.7 L177.0,261.5 L178.0,262.2 L179.0,262.9 L180.0,263.6 L181.0,264.3 L182.0,265.0 L183.0,265.7 L184.0,266.5 L185.0,267.2 L186.0,267.9 L187.0,268.6 L188.0,269.3 L189.0,270.1 L190.0,270.8 L191.0,271.5 L192.0,272.2 L193.0,272.9 L194.0,273.7 L195.0,274.4 L196.0,275.1 L197.0,275.9 L198.0,276.6 L199.0,277.3 L200.0,278.1 L201.0,278.8 L202.0,279.6 L203.0,280.3 L204.0,281.0 L205.0,281.8 L206.0,282.5 L207.0,283.3 L208.0,284.0 L209.0,284.8 L210.0,285.5 L211.0,286.3 L212.0,287.1 L213.0,287.8 L214.0,288.6 L215.0,289.4 L216.0,290.1 L217.0,290.9 L218.0,291.7 L219.0,292.5 L220.0,293.2 L221.0,294.0 L222.0,294.8 L223.0,295.6 L224.0,296.4 L225.0,297.2 L226.0,298.0 L227.0,298.8 L228.0,299.6 L229.0,300.4 L230.0,301.2 L231.0,302.0 L232.0,302.8 L233.0,303.6 L234.0,304.5 L235.0,305.3 L236.0,306.1 L237.0,307.0 L238.0,307.8 L239.0,308.6 L240.0,309.5 L241.0,310.3 L242.0,311.2 L243.0,312.0 L244.0,312.9 L245.0,313.7 L246.0,314.6 L247.0,315.5 L248.0,316.4 L249.0,317.2 L250.0,318.1 L251.0,319.0 L252.0,319.9 L253.0,320.8 L254.0,321.7 L255.0,322.6 L256.0,323.5 L257.0,324.4 L258.0,325.3 L259.0,326.3 L260.0,327.2 L261.0,328.1 L262.0,329.1 L263.0,330.0 L264.0,331.0 L265.0,331.9 L266.0,332.9 L267.0,333.8 L268.0,334.8 L269.0,335.8 L270.0,336.7 L271.0,337.7 L272.0,338.7 L273.0,339.7 L274.0,340.7 L275.0,341.7 L276.0,342.7 L277.0,343.7 L278.0,344.8 L279.0,345.8 L280.0,346.8 L281.0,347.9 L282.0,348.9 L283.0,349.9 L284.0,351.0 L285.0,352.1 L286.0,353.1 L287.0,354.2 L288.0,355.3 L289.0,356.4 L290.0,357.5 L291.0,358.6 L292.0,359.7 L293.0,360.8 L294.0,361.9 L295.0,363.0 L296.0,364.1 L297.0,365.3 L298.0,366.4 L299.0,367.6 L300.0,368.7 L301.0,369.9 L302.0,371.1 L303.0,372.2 L304.0,373.4" stroke="#1414d6"/>
<path d="M86.0,212.6 L87.0,213.5 L88.0,214.3 L89.0,215.2 L90.0,216.0 L91.0,216.9 L92.0,217.7 L93.0,218.5 L94.0,219.4 L95.0,220.2 L96.0,221.1 L97.0,221.9 L98.0,222.7 L99.0,223.6 L100.0,224.4 L101.0,225.2 L102.0,226.1 L103.0,226.9 L104.0,227.7 L105.0,228.5 L106.0,229.4 L107.0,230.2 L108.0,231.0 L109.0,231.9 L110.0,232.7 L111.0,233.5 L112.0,234.3 L113.0,235.1 L114.0,236.0 L115.0,236.8 L116.0,237.6 L117.0,238.4 L118.0,239.3 L119.0,240.1 L120.0,240.9 L121.0,241.7 L122.0,242.5 L123.0,243.4 L124.0,244.2 L125.0,245.0 L126.0,245.8 L127.0,246.6 L128.0,247.4 L129.0,248.3 L130.0,249.1 L131.0,249.9 L132.0,250.7 L133.0,251.5 L134.0,252.3 L135.0,253.2 L136.0,254.0 L137.0,254.8 L138.0,255.6 L139.0,256.4 L140.0,257.2 L141.0,258.0 L142.0,258.9 L143.0,259.7 L144.0,260.5 L145.0,261.3 L146.0,262.1 L147.0,262.9 L148.0,263.8 L149.0,264.6 L150.0,265.4 L151.0,266.2 L152.0,267.0 L153.0,267.8 L154.0,268.7 L155.0,269.5 L156.0,270.3 L157.0,271.1 L158.0,271.9 L159.0,272.8 L160.0,273.6 L161.0,274.4 L162.0,275.2 L163.0,276.0 L164.0,276.9 L165.0,277.7 L166.0,278.5 L167.0,279.3 L168.0,280.2 L169.0,281.0 L170.0,281.8 L171.0,282.6 L172.0,283.5 L173.0,284.3 L174.0,285.1 L175.0,286.0 L176.0,286.8 L177.0,287.6 L178.0,288.5 L179.0,289.3 L180.0,290.1 L181.0,291.0 L182.0,291.8 L183.0,292.6 L184.0,293.5 L185.0,294.3 L186.0,295.2 L187.0,296.0 L188.0,296.8 L189.0,297.7 L190.0,298.5 L191.0,299.4 L192.0,300.2 L193.0,301.1 L194.0,301.9 L195.0,302.8 L196.0,303.6 L197.0,304.5 L198.0,305.4 L199.0,306.2 L200.0,307.1 L201.0,307.9 L202.0,308.8 L203.0,309.7 L204.0,310.5 L205.0,311.4 L206.0,312.3 L207.0,313.1 L208.0,314.0 L209.0,314.9 L210.0,315.7 L211.0,316.6 L212.0,317.5 L213.0,318.4 L214.0,319.3 L215.0,320.1 L216.0,321.0 L217.0,321.9 L218.0,322.8 L219.0,323.7 L220.0,324.6 L221.0,325.5 L222.0,326.4 L223.0,327.3 L224.0,328.2 L225.0,329.1 L226.0,330.0 L227.0,330.9 L228.0,331.8 L229.0,332.7 L230.0,333.6 L231.0,334.5 L232.0,335.4 L233.0,336.4 L234.0,337.3 L235.0,338.2 L236.0,339.1 L237.0,340.1 L238.0,341.0 L239.0,341.9 L240.0,342.9 L241.0,343.8 L242.0,344.7 L243.0,345.7 L244.0,346.6 L245.0,347.6 L246.0,348.5 L247.0,349.5 L248.0,350.4 L249.0,351.4 L250.0,352.3 L251.0,353.3 L252.0,354.3 L253.0,355.2 L254.0,356.2 L255.0,357.2 L256.0,358.2 L257.0,359.1 L258.0,360.1 L259.0,361.1 L260.0,362.1 L261.0,363.1 L262.0,364.1 L263.0,365.1 L264.0,366.1 L265.0,367.1 L266.0,368.1 L267.0,369.1 L268.0,370.1 L269.0,371.1 L270.0,372.1 L271.0,373.1 L272.0,374.2 L273.0,375.2 L274.0,376.2 L275.0,377.2 L276.0,378.3 L277.0,379.3 L278.0,380.4 L279.0,381.4 L280.0,382.5 L281.0,383.5 L282.0,384.6 L283.0,385.6 L284.0,386.7 L285.0,387.7 L286.0,388.8 L287.0,389.9 L288.0,391.0 L289.0,392.0 L290.0,393.1 L291.0,394.2 L292.0,395.3 L293.0,396.4 L294.0,397.5 L295.0,398.6 L296.0,399.7 L297.0,400.8 L298.0,401.9 L299.0,403.0 L300.0,404.1 L301.0,405.3 L302.0,406.4 L303.0,407.5 L304.0,408.7 L305.0,409.8" stroke="#2030a8"/>
<path d="M74.5,222.9 L75.5,223.8 L76.5,224.7 L77.5,225.6 L78.5,226.5 L79.5,227.4 L80.5,228.3 L81.5,229.2 L82.5,230.1 L83.5,231.0 L84.5,231.9 L85.5,232.8 L86.5,233.7 L87.5,234.6 L88.5,235.5 L89.5,236.3 L90.5,237.2 L91.5,238.1 L92.5,239.0 L93.5,239.9 L94.5,240.8 L95.5,241.7 L96.5,242.6 L97.5,243.5 L98.5,244.4 L99.5,245.3 L100.5,246.2 L101.5,247.0 L102.5,247.9 L103.5,248.8 L104.5,249.7 L105.5,250.6 L106.5,251.5 L107.5,252.4 L108.5,253.3 L109.5,254.2 L110.5,255.1 L111.5,255.9 L112.5,256.8 L113.5,257.7 L114.5,258.6 L115.5,259.5 L116.5,260.4 L117.5,261.3 L118.5,262.2 L119.5,263.1 L120.5,264.0 L121.5,264.9 L122.5,265.7 L123.5,266.6 L124.5,267.5 L125.5,268.4 L126.5,269.3 L127.5,270.2 L128.5,271.1 L129.5,272.0 L130.5,272.9 L131.5,273.8 L132.5,274.7 L133.5,275.6 L134.5,276.5 L135.5,277.3 L136.5,278.2 L137.5,279.1 L138.5,280.0 L139.5,280.9 L140.5,281.8 L141.5,282.7 L142.5,283.6 L143.5,284.5 L144.5,285.4 L145.5,286.3 L146.5,287.2 L147.5,288.1 L148.5,289.0 L149.5,289.9 L150.5,290.8 L151.5,291.7 L152.5,292.6 L153.5,293.5 L154.5,294.4 L155.5,295.3 L156.5,296.2 L157.5,297.1 L158.5,298.0 L159.5,298.9 L160.5,299.8 L161.5,300.7 L162.5,301.6 L163.5,302.5 L164.5,303.5 L165.5,304.4 L166.5,305.3 L167.5,306.2 L168.5,307.1 L169.5,308.0 L170.5,308.9 L171.5,309.8 L172.5,310.7 L173.5,311.7 L174.5,312.6 L175.5,313.5 L176.5,314.4 L177.5,315.3 L178.5,316.2 L179.5,317.2 L180.5,318.1 L181.5,319.0 L182.5,319.9 L183.5,320.8 L184.5,321.8 L185.5,322.7 L186.5,323.6 L187.5,324.5 L188.5,325.5 L189.5,326.4 L190.5,327.3 L191.5,328.3 L192.5,329.2 L193.5,330.1 L194.5,331.0 L195.5,332.0 L196.5,332.9 L197.5,333.9 L198.5,334.8 L199.5,335.7 L200.5,336.7 L201.5,337.6 L202.5,338.5 L203.5,339.5 L204.5,340.4 L205.5,341.4 L206.5,342.3 L207.5,343.3 L208.5,344.2 L209.5,345.2 L210.5,346.1 L211.5,347.1 L212.5,348.0 L213.5,349.0 L214.5,349.9 L215.5,350.9 L216.5,351.8 L217.5,352.8 L218.5,353.8 L219.5,354.7 L220.5,355.7 L221.5,356.7 L222.5,357.6 L223.5,358.6 L224.5,359.6 L225.5,360.5 L226.5,361.5 L227.5,362.5 L228.5,363.4 L229.5,364.4 L230.5,365.4 L231.5,366.4 L232.5,367.4 L233.5,368.3 L234.5,369.3 L235.5,370.3 L236.5,371.3 L237.5,372.3 L238.5,373.3 L239.5,374.3 L240.5,375.3 L241.5,376.2 L242.5,377.2 L243.5,378.2 L244.5,379.2 L245.5,380.2 L246.5,381.2 L247.5,382.2 L248.5,383.2 L249.5,384.3 L250.5,385.3 L251.5,386.3 L252.5,387.3 L253.5,388.3 L254.5,389.3 L255.5,390.3 L256.5,391.3 L257.5,392.4 L258.5,393.4 L259.5,394.4 L260.5,395.4 L261.5,396.5 L262.5,397.5 L263.5,398.5 L264.5,399.6 L265.5,400.6 L266.5,401.6 L267.5,402.7 L268.5,403.7 L269.5,404.8 L270.5,405.8 L271.5,406.8 L272.5,407.9 L273.5,408.9 L274.5,410.0 L275.5,411.0 L276.5,412.1 L277.5,413.2 L278.5,414.2 L279.5,415.3 L280.5,416.3 L281.5,417.4 L282.5,418.5 L283.5,419.6 L284.5,420.6 L285.5,421.7 L286.5,422.8 L287.5,423.9 L288.5,424.9 L289.5,426.0 L290.5,427.1 L291.5,428.2 L292.5,429.3 L293.5,430.4 L294.5,431.5 L295.5,432.6 L296.5,433.7 L297.5,434.8 L298.5,435.9" stroke="#2a5c98"/>
<path d="M74.5,241.7 L75.5,242.6 L76.5,243.5 L77.5,244.4 L78.5,245.3 L79.5,246.2 L80.5,247.1 L81.5,248.0 L82.5,248.9 L83.5,249.7 L84.5,250.6 L85.5,251.5 L86.5,252.4 L87.5,253.3 L88.5,254.2 L89.5,255.1 L90.5,256.0 L91.5,256.9 L92.5,257.8 L93.5,258.7 L94.5,259.6 L95.5,260.5 L96.5,261.4 L97.5,262.3 L98.5,263.2 L99.5,264.1 L100.5,265.0 L101.5,265.9 L102.5,266.8 L103.5,267.7 L104.5,268.6 L105.5,269.5 L106.5,270.4 L107.5,271.4 L108.5,272.3 L109.5,273.2 L110.5,274.1 L111.5,275.0 L112.5,275.9 L113.5,276.8 L114.5,277.7 L115.5,278.7 L116.5,279.6 L117.5,280.5 L118.5,281.4 L119.5,282.3 L120.5,283.2 L121.5,284.2 L122.5,285.1 L123.5,286.0 L124.5,286.9 L125.5,287.9 L126.5,288.8 L127.5,289.7 L128.5,290.6 L129.5,291.6 L130.5,292.5 L131.5,293.4 L132.5,294.4 L133.5,295.3 L134.5,296.2 L135.5,297.2 L136.5,298.1 L137.5,299.0 L138.5,300.0 L139.5,300.9 L140.5,301.8 L141.5,302.8 L142.5,303.7 L143.5,304.7 L144.5,305.6 L145.5,306.5 L146.5,307.5 L147.5,308.4 L148.5,309.4 L149.5,310.3 L150.5,311.3 L151.5,312.2 L152.5,313.2 L153.5,314.1 L154.5,315.1 L155.5,316.0 L156.5,317.0 L157.5,317.9 L158.5,318.9 L159.5,319.8 L160.5,320.8 L161.5,321.7 L162.5,322.7 L163.5,323.7 L164.5,324.6 L165.5,325.6 L166.5,326.5 L167.5,327.5 L168.5,328.5 L169.5,329.4 L170.5,330.4 L171.5,331.4 L172.5,332.3 L173.5,333.3 L174.5,334.3 L175.5,335.2 L176.5,336.2 L177.5,337.2 L178.5,338.2 L179.5,339.1 L180.5,340.1 L181.5,341.1 L182.5,342.1 L183.5,343.1 L184.5,344.0 L185.5,345.0 L186.5,346.0 L187.5,347.0 L188.5,348.0 L189.5,349.0 L190.5,349.9 L191.5,350.9 L192.5,351.9 L193.5,352.9 L194.5,353.9 L195.5,354.9 L196.5,355.9 L197.5,356.9 L198.5,357.9 L199.5,358.9 L200.5,359.9 L201.5,360.9 L202.5,361.9 L203.5,362.9 L204.5,363.9 L205.5,364.9 L206.5,365.9 L207.5,366.9 L208.5,367.9 L209.5,368.9 L210.5,369.9 L211.5,370.9 L212.5,371.9 L213.5,373.0 L214.5,374.0 L215.5,375.0 L216.5,376.0 L217.5,377.0 L218.5,378.0 L219.5,379.1 L220.5,380.1 L221.5,381.1 L222.5,382.1 L223.5,383.1 L224.5,384.2 L225.5,385.2 L226.5,386.2 L227.5,387.3 L228.5,388.3 L229.5,389.3 L230.5,390.4 L231.5,391.4 L232.5,392.4 L233.5,393.5 L234.5,394.5 L235.5,395.5 L236.5,396.6 L237.5,397.6 L238.5,398.7 L239.5,399.7 L240.5,400.8 L241.5,401.8 L242.5,402.8 L243.5,403.9 L244.5,404.9 L245.5,406.0 L246.5,407.0 L247.5,408.1 L248.5,409.2 L249.5,410.2 L250.5,411.3 L251.5,412.3 L252.5,413.4 L253.5,414.5 L254.5,415.5 L255.5,416.6 L256.5,417.6 L257.5,418.7 L258.5,419.8 L259.5,420.9 L260.5,421.9 L261.5,423.0 L262.5,424.1 L263.5,425.1 L264.5,426.2 L265.5,427.3 L266.5,428.4 L267.5,429.5 L268.5,430.5 L269.5,431.6 L270.5,432.7 L271.5,433.8 L272.5,434.9" stroke="#1d7373"/>
</g>
<g clip-path="url(#cc)">
<circle cx="151.40" cy="239.20" r="2.25" fill="#1414d6"/>
<circle cx="168.30" cy="253.70" r="2.25" fill="#1414d6"/>
<circle cx="185.70" cy="266.60" r="2.25" fill="#1414d6"/>
<circle cx="203.20" cy="278.50" r="2.25" fill="#1414d6"/>
<circle cx="221.20" cy="294.00" r="2.25" fill="#1414d6"/>
<circle cx="238.00" cy="306.70" r="2.25" fill="#1414d6"/>
<circle cx="255.20" cy="325.40" r="2.25" fill="#1414d6"/>
<circle cx="133.70" cy="247.00" r="2.25" fill="#2030a8"/>
<circle cx="151.30" cy="261.50" r="2.25" fill="#2030a8"/>
<circle cx="168.40" cy="275.10" r="2.25" fill="#2030a8"/>
<circle cx="185.70" cy="295.50" r="2.25" fill="#2030a8"/>
<circle cx="203.20" cy="305.80" r="2.25" fill="#2030a8"/>
<circle cx="221.20" cy="323.60" r="2.25" fill="#2030a8"/>
<circle cx="238.00" cy="343.80" r="2.25" fill="#2030a8"/>
<circle cx="133.80" cy="271.70" r="2.25" fill="#2a5c98"/>
<circle cx="151.20" cy="287.40" r="2.25" fill="#2a5c98"/>
<circle cx="168.40" cy="303.40" r="2.25" fill="#2a5c98"/>
<circle cx="185.70" cy="320.50" r="2.25" fill="#2a5c98"/>
<circle cx="203.20" cy="339.20" r="2.25" fill="#2a5c98"/>
<circle cx="221.20" cy="356.90" r="2.25" fill="#2a5c98"/>
<circle cx="99.20" cy="272.50" r="2.25" fill="#1d7373"/>
<circle cx="116.50" cy="282.50" r="2.25" fill="#1d7373"/>
<circle cx="133.70" cy="298.50" r="2.25" fill="#1d7373"/>
<circle cx="151.30" cy="316.10" r="2.25" fill="#1d7373"/>
<circle cx="168.30" cy="336.30" r="2.25" fill="#1d7373"/>
<circle cx="185.70" cy="358.80" r="2.25" fill="#1d7373"/>
<circle cx="203.30" cy="382.50" r="2.25" fill="#1d7373"/>
</g>
<g clip-path="url(#cd)" fill="none" stroke-width="1.90" stroke-dasharray="6.3 2.8">
<path d="M315.0,209.2 L316.0,210.3 L317.0,211.5 L318.0,212.6 L319.0,213.7 L320.0,214.9 L321.0,216.0 L322.0,217.1 L323.0,218.2 L324.0,219.4 L325.0,220.5 L326.0,221.6 L327.0,222.8 L328.0,223.9 L329.0,225.0 L330.0,226.1 L331.0,227.3 L332.0,228.4 L333.0,229.5 L334.0,230.7 L335.0,231.8 L336.0,232.9 L337.0,234.1 L338.0,235.2 L339.0,236.3 L340.0,237.5 L341.0,238.6 L342.0,239.8 L343.0,240.9 L344.0,242.0 L345.0,243.2 L346.0,244.3 L347.0,245.5 L348.0,246.6 L349.0,247.8 L350.0,248.9 L351.0,250.1 L352.0,251.3 L353.0,252.4 L354.0,253.6 L355.0,254.8 L356.0,255.9 L357.0,257.1 L358.0,258.3 L359.0,259.5 L360.0,260.6 L361.0,261.8 L362.0,263.0 L363.0,264.2 L364.0,265.4 L365.0,266.6 L366.0,267.8 L367.0,269.0 L368.0,270.2 L369.0,271.4 L370.0,272.6 L371.0,273.9 L372.0,275.1 L373.0,276.3 L374.0,277.5 L375.0,278.8 L376.0,280.0 L377.0,281.3 L378.0,282.5 L379.0,283.8 L380.0,285.0 L381.0,286.3 L382.0,287.6 L383.0,288.8 L384.0,290.1 L385.0,291.4 L386.0,292.7 L387.0,294.0 L388.0,295.3 L389.0,296.6 L390.0,297.9 L391.0,299.2 L392.0,300.5 L393.0,301.9 L394.0,303.2 L395.0,304.6 L396.0,305.9 L397.0,307.3 L398.0,308.6 L399.0,310.0 L400.0,311.4 L401.0,312.7 L402.0,314.1 L403.0,315.5 L404.0,316.9 L405.0,318.3 L406.0,319.7 L407.0,321.1 L408.0,322.6 L409.0,324.0 L410.0,325.5 L411.0,326.9 L412.0,328.4 L413.0,329.8 L414.0,331.3 L415.0,332.8 L416.0,334.3 L417.0,335.8 L418.0,337.3 L419.0,338.8 L420.0,340.3 L421.0,341.8 L422.0,343.4 L423.0,344.9 L424.0,346.5 L425.0,348.0 L426.0,349.6 L427.0,351.2 L428.0,352.8 L429.0,354.4 L430.0,356.0 L431.0,357.6 L432.0,359.2 L433.0,360.8 L434.0,362.5 L435.0,364.1 L436.0,365.8 L437.0,367.5 L438.0,369.2 L439.0,370.8 L440.0,372.6 L441.0,374.3 L442.0,376.0 L443.0,377.7 L444.0,379.5 L445.0,381.2 L446.0,383.0 L447.0,384.8 L448.0,386.5 L449.0,388.3 L450.0,390.1 L451.0,392.0 L452.0,393.8 L453.0,395.6 L454.0,397.5 L455.0,399.3 L456.0,401.2 L457.0,403.1 L458.0,405.0 L459.0,406.9 L460.0,408.8 L461.0,410.7 L462.0,412.7 L463.0,414.6 L464.0,416.6 L465.0,418.6 L466.0,420.6 L467.0,422.6 L468.0,424.6 L469.0,426.6 L470.0,428.7 L471.0,430.7 L472.0,432.8 L473.0,434.9 L474.0,437.0 L475.0,439.1 L476.0,441.2 L477.0,443.3" stroke="#2a8436"/>
<path d="M301.5,207.6 L302.5,209.2 L303.5,210.7 L304.5,212.3 L305.5,213.8 L306.5,215.3 L307.5,216.8 L308.5,218.3 L309.5,219.8 L310.5,221.3 L311.5,222.8 L312.5,224.3 L313.5,225.8 L314.5,227.2 L315.5,228.7 L316.5,230.1 L317.5,231.5 L318.5,233.0 L319.5,234.4 L320.5,235.8 L321.5,237.2 L322.5,238.6 L323.5,240.0 L324.5,241.4 L325.5,242.8 L326.5,244.2 L327.5,245.6 L328.5,246.9 L329.5,248.3 L330.5,249.7 L331.5,251.0 L332.5,252.4 L333.5,253.7 L334.5,255.1 L335.5,256.4 L336.5,257.8 L337.5,259.1 L338.5,260.5 L339.5,261.8 L340.5,263.1 L341.5,264.4 L342.5,265.8 L343.5,267.1 L344.5,268.4 L345.5,269.7 L346.5,271.0 L347.5,272.4 L348.5,273.7 L349.5,275.0 L350.5,276.3 L351.5,277.6 L352.5,278.9 L353.5,280.2 L354.5,281.6 L355.5,282.9 L356.5,284.2 L357.5,285.5 L358.5,286.8 L359.5,288.1 L360.5,289.5 L361.5,290.8 L362.5,292.1 L363.5,293.4 L364.5,294.7 L365.5,296.1 L366.5,297.4 L367.5,298.7 L368.5,300.1 L369.5,301.4 L370.5,302.7 L371.5,304.1 L372.5,305.4 L373.5,306.8 L374.5,308.1 L375.5,309.5 L376.5,310.9 L377.5,312.2 L378.5,313.6 L379.5,315.0 L380.5,316.4 L381.5,317.8 L382.5,319.2 L383.5,320.6 L384.5,322.0 L385.5,323.4 L386.5,324.8 L387.5,326.2 L388.5,327.7 L389.5,329.1 L390.5,330.5 L391.5,332.0 L392.5,333.4 L393.5,334.9 L394.5,336.4 L395.5,337.9 L396.5,339.4 L397.5,340.9 L398.5,342.4 L399.5,343.9 L400.5,345.4 L401.5,347.0 L402.5,348.5 L403.5,350.1 L404.5,351.6 L405.5,353.2 L406.5,354.8 L407.5,356.4 L408.5,358.0 L409.5,359.6 L410.5,361.2 L411.5,362.9 L412.5,364.5 L413.5,366.2 L414.5,367.8 L415.5,369.5 L416.5,371.2 L417.5,372.9 L418.5,374.6 L419.5,376.4 L420.5,378.1 L421.5,379.9 L422.5,381.7 L423.5,383.4 L424.5,385.2 L425.5,387.0 L426.5,388.9 L427.5,390.7 L428.5,392.6 L429.5,394.4 L430.5,396.3 L431.5,398.2 L432.5,400.1 L433.5,402.1 L434.5,404.0 L435.5,406.0 L436.5,407.9 L437.5,409.9 L438.5,412.0 L439.5,414.0 L440.5,416.0 L441.5,418.1 L442.5,420.2 L443.5,422.2 L444.5,424.4 L445.5,426.5 L446.5,428.6 L447.5,430.8 L448.5,433.0 L449.5,435.2 L450.5,437.4 L451.5,439.6 L452.5,441.9 L453.5,444.2" stroke="#568c24"/>
<path d="M294.5,224.6 L295.5,225.9 L296.5,227.2 L297.5,228.5 L298.5,229.9 L299.5,231.2 L300.5,232.5 L301.5,233.8 L302.5,235.1 L303.5,236.5 L304.5,237.8 L305.5,239.1 L306.5,240.4 L307.5,241.8 L308.5,243.1 L309.5,244.5 L310.5,245.8 L311.5,247.1 L312.5,248.5 L313.5,249.8 L314.5,251.2 L315.5,252.5 L316.5,253.9 L317.5,255.3 L318.5,256.6 L319.5,258.0 L320.5,259.4 L321.5,260.7 L322.5,262.1 L323.5,263.5 L324.5,264.9 L325.5,266.3 L326.5,267.6 L327.5,269.0 L328.5,270.4 L329.5,271.8 L330.5,273.2 L331.5,274.6 L332.5,276.0 L333.5,277.5 L334.5,278.9 L335.5,280.3 L336.5,281.7 L337.5,283.1 L338.5,284.6 L339.5,286.0 L340.5,287.5 L341.5,288.9 L342.5,290.3 L343.5,291.8 L344.5,293.2 L345.5,294.7 L346.5,296.2 L347.5,297.6 L348.5,299.1 L349.5,300.6 L350.5,302.1 L351.5,303.5 L352.5,305.0 L353.5,306.5 L354.5,308.0 L355.5,309.5 L356.5,311.0 L357.5,312.5 L358.5,314.1 L359.5,315.6 L360.5,317.1 L361.5,318.6 L362.5,320.2 L363.5,321.7 L364.5,323.2 L365.5,324.8 L366.5,326.3 L367.5,327.9 L368.5,329.5 L369.5,331.0 L370.5,332.6 L371.5,334.2 L372.5,335.8 L373.5,337.4 L374.5,338.9 L375.5,340.5 L376.5,342.2 L377.5,343.8 L378.5,345.4 L379.5,347.0 L380.5,348.6 L381.5,350.3 L382.5,351.9 L383.5,353.5 L384.5,355.2 L385.5,356.8 L386.5,358.5 L387.5,360.2 L388.5,361.8 L389.5,363.5 L390.5,365.2 L391.5,366.9 L392.5,368.6 L393.5,370.3 L394.5,372.0 L395.5,373.7 L396.5,375.4 L397.5,377.2 L398.5,378.9 L399.5,380.6 L400.5,382.4 L401.5,384.1 L402.5,385.9 L403.5,387.6 L404.5,389.4 L405.5,391.2 L406.5,393.0 L407.5,394.8 L408.5,396.6 L409.5,398.4 L410.5,400.2 L411.5,402.0 L412.5,403.8 L413.5,405.6 L414.5,407.5 L415.5,409.3 L416.5,411.2 L417.5,413.0 L418.5,414.9 L419.5,416.8 L420.5,418.7 L421.5,420.5 L422.5,422.4 L423.5,424.3 L424.5,426.3 L425.5,428.2 L426.5,430.1 L427.5,432.0 L428.5,434.0 L429.5,435.9 L430.5,437.9 L431.5,439.8 L432.5,441.8" stroke="#acb21c"/>
<path d="M294.5,244.7 L295.5,245.8 L296.5,247.0 L297.5,248.2 L298.5,249.3 L299.5,250.5 L300.5,251.7 L301.5,252.9 L302.5,254.2 L303.5,255.4 L304.5,256.6 L305.5,257.9 L306.5,259.1 L307.5,260.4 L308.5,261.7 L309.5,263.0 L310.5,264.3 L311.5,265.6 L312.5,266.9 L313.5,268.2 L314.5,269.6 L315.5,270.9 L316.5,272.2 L317.5,273.6 L318.5,275.0 L319.5,276.3 L320.5,277.7 L321.5,279.1 L322.5,280.5 L323.5,281.9 L324.5,283.3 L325.5,284.8 L326.5,286.2 L327.5,287.6 L328.5,289.1 L329.5,290.5 L330.5,292.0 L331.5,293.5 L332.5,295.0 L333.5,296.4 L334.5,297.9 L335.5,299.4 L336.5,301.0 L337.5,302.5 L338.5,304.0 L339.5,305.5 L340.5,307.1 L341.5,308.6 L342.5,310.2 L343.5,311.7 L344.5,313.3 L345.5,314.9 L346.5,316.5 L347.5,318.0 L348.5,319.6 L349.5,321.2 L350.5,322.9 L351.5,324.5 L352.5,326.1 L353.5,327.7 L354.5,329.4 L355.5,331.0 L356.5,332.6 L357.5,334.3 L358.5,336.0 L359.5,337.6 L360.5,339.3 L361.5,341.0 L362.5,342.7 L363.5,344.4 L364.5,346.1 L365.5,347.8 L366.5,349.5 L367.5,351.2 L368.5,352.9 L369.5,354.6 L370.5,356.4 L371.5,358.1 L372.5,359.9 L373.5,361.6 L374.5,363.4 L375.5,365.1 L376.5,366.9 L377.5,368.6 L378.5,370.4 L379.5,372.2 L380.5,374.0 L381.5,375.8 L382.5,377.6 L383.5,379.4 L384.5,381.2 L385.5,383.0 L386.5,384.8 L387.5,386.6 L388.5,388.4 L389.5,390.3 L390.5,392.1 L391.5,393.9 L392.5,395.8 L393.5,397.6 L394.5,399.5 L395.5,401.3 L396.5,403.2 L397.5,405.0 L398.5,406.9 L399.5,408.8 L400.5,410.7 L401.5,412.5 L402.5,414.4 L403.5,416.3 L404.5,418.2 L405.5,420.1 L406.5,422.0 L407.5,423.9 L408.5,425.8 L409.5,427.7 L410.5,429.6 L411.5,431.5 L412.5,433.4 L413.5,435.3 L414.5,437.3 L415.5,439.2 L416.5,441.1" stroke="#efd21c"/>
</g>
<g clip-path="url(#cd)">
<circle cx="353.70" cy="253.00" r="2.25" fill="#2a8436"/>
<circle cx="371.10" cy="270.10" r="2.25" fill="#2a8436"/>
<circle cx="388.80" cy="291.70" r="2.25" fill="#2a8436"/>
<circle cx="405.90" cy="312.00" r="2.25" fill="#2a8436"/>
<circle cx="337.20" cy="262.60" r="2.25" fill="#568c24"/>
<circle cx="354.00" cy="282.30" r="2.25" fill="#568c24"/>
<circle cx="371.50" cy="304.60" r="2.25" fill="#568c24"/>
<circle cx="388.70" cy="331.50" r="2.25" fill="#568c24"/>
<circle cx="406.80" cy="360.10" r="2.25" fill="#568c24"/>
<circle cx="319.70" cy="274.70" r="2.25" fill="#acb21c"/>
<circle cx="336.80" cy="290.40" r="2.25" fill="#acb21c"/>
<circle cx="354.10" cy="313.80" r="2.25" fill="#acb21c"/>
<circle cx="371.40" cy="341.50" r="2.25" fill="#acb21c"/>
<circle cx="388.60" cy="372.30" r="2.25" fill="#acb21c"/>
<circle cx="319.20" cy="300.80" r="2.25" fill="#efd21c"/>
<circle cx="336.80" cy="321.80" r="2.25" fill="#efd21c"/>
<circle cx="354.20" cy="351.20" r="2.25" fill="#efd21c"/>
<circle cx="371.70" cy="388.40" r="2.25" fill="#efd21c"/>
</g>
<rect x="82.50" y="3.50" width="215.50" height="209.80" fill="none" stroke="#1a1a1a" stroke-width="1.2"/>
<line x1="82.50" y1="213.30" x2="82.50" y2="208.80" stroke="#1a1a1a" stroke-width="1.20"/>
<line x1="82.50" y1="3.50" x2="82.50" y2="8.00" stroke="#1a1a1a" stroke-width="1.20"/>
<line x1="178.28" y1="213.30" x2="178.28" y2="208.80" stroke="#1a1a1a" stroke-width="1.20"/>
<line x1="178.28" y1="3.50" x2="178.28" y2="8.00" stroke="#1a1a1a" stroke-width="1.20"/>
<line x1="274.06" y1="213.30" x2="274.06" y2="208.80" stroke="#1a1a1a" stroke-width="1.20"/>
<line x1="274.06" y1="3.50" x2="274.06" y2="8.00" stroke="#1a1a1a" stroke-width="1.20"/>
<line x1="82.50" y1="204.56" x2="87.00" y2="204.56" stroke="#1a1a1a" stroke-width="1.20"/>
<line x1="298.00" y1="204.56" x2="293.50" y2="204.56" stroke="#1a1a1a" stroke-width="1.20"/>
<line x1="82.50" y1="160.85" x2="87.00" y2="160.85" stroke="#1a1a1a" stroke-width="1.20"/>
<line x1="298.00" y1="160.85" x2="293.50" y2="160.85" stroke="#1a1a1a" stroke-width="1.20"/>
<line x1="82.50" y1="117.14" x2="87.00" y2="117.14" stroke="#1a1a1a" stroke-width="1.20"/>
<line x1="298.00" y1="117.14" x2="293.50" y2="117.14" stroke="#1a1a1a" stroke-width="1.20"/>
<line x1="82.50" y1="73.43" x2="87.00" y2="73.43" stroke="#1a1a1a" stroke-width="1.20"/>
<line x1="298.00" y1="73.43" x2="293.50" y2="73.43" stroke="#1a1a1a" stroke-width="1.20"/>
<line x1="82.50" y1="29.73" x2="87.00" y2="29.73" stroke="#1a1a1a" stroke-width="1.20"/>
<line x1="298.00" y1="29.73" x2="293.50" y2="29.73" stroke="#1a1a1a" stroke-width="1.20"/>
<rect x="302.50" y="3.50" width="215.50" height="209.80" fill="none" stroke="#1a1a1a" stroke-width="1.2"/>
<line x1="302.50" y1="213.30" x2="302.50" y2="208.80" stroke="#1a1a1a" stroke-width="1.20"/>
<line x1="302.50" y1="3.50" x2="302.50" y2="8.00" stroke="#1a1a1a" stroke-width="1.20"/>
<line x1="398.28" y1="213.30" x2="398.28" y2="208.80" stroke="#1a1a1a" stroke-width="1.20"/>
<line x1="398.28" y1="3.50" x2="398.28" y2="8.00" stroke="#1a1a1a" stroke-width="1.20"/>
<line x1="494.06" y1="213.30" x2="494.06" y2="208.80" stroke="#1a1a1a" stroke-width="1.20"/>
<line x1="494.06" y1="3.50" x2="494.06" y2="8.00" stroke="#1a1a1a" stroke-width="1.20"/>
<line x1="302.50" y1="204.56" x2="307.00" y2="204.56" stroke="#1a1a1a" stroke-width="1.20"/>
<line x1="518.00" y1="204.56" x2="513.50" y2="204.56" stroke="#1a1a1a" stroke-width="1.20"/>
<line x1="302.50" y1="160.85" x2="307.00" y2="160.85" stroke="#1a1a1a" stroke-width="1.20"/>
<line x1="518.00" y1="160.85" x2="513.50" y2="160.85" stroke="#1a1a1a" stroke-width="1.20"/>
<line x1="302.50" y1="117.14" x2="307.00" y2="117.14" stroke="#1a1a1a" stroke-width="1.20"/>
<line x1="518.00" y1="117.14" x2="513.50" y2="117.14" stroke="#1a1a1a" stroke-width="1.20"/>
<line x1="302.50" y1="73.43" x2="307.00" y2="73.43" stroke="#1a1a1a" stroke-width="1.20"/>
<line x1="518.00" y1="73.43" x2="513.50" y2="73.43" stroke="#1a1a1a" stroke-width="1.20"/>
<line x1="302.50" y1="29.73" x2="307.00" y2="29.73" stroke="#1a1a1a" stroke-width="1.20"/>
<line x1="518.00" y1="29.73" x2="513.50" y2="29.73" stroke="#1a1a1a" stroke-width="1.20"/>
<rect x="82.50" y="217.00" width="215.50" height="210.00" fill="none" stroke="#1a1a1a" stroke-width="1.2"/>
<line x1="82.50" y1="427.00" x2="82.50" y2="422.50" stroke="#1a1a1a" stroke-width="1.20"/>
<line x1="82.50" y1="217.00" x2="82.50" y2="221.50" stroke="#1a1a1a" stroke-width="1.20"/>
<line x1="178.28" y1="427.00" x2="178.28" y2="422.50" stroke="#1a1a1a" stroke-width="1.20"/>
<line x1="178.28" y1="217.00" x2="178.28" y2="221.50" stroke="#1a1a1a" stroke-width="1.20"/>
<line x1="274.06" y1="427.00" x2="274.06" y2="422.50" stroke="#1a1a1a" stroke-width="1.20"/>
<line x1="274.06" y1="217.00" x2="274.06" y2="221.50" stroke="#1a1a1a" stroke-width="1.20"/>
<line x1="82.50" y1="427.00" x2="87.00" y2="427.00" stroke="#1a1a1a" stroke-width="1.20"/>
<line x1="298.00" y1="427.00" x2="293.50" y2="427.00" stroke="#1a1a1a" stroke-width="1.20"/>
<line x1="82.50" y1="411.20" x2="84.70" y2="411.20" stroke="#1a1a1a" stroke-width="0.80"/>
<line x1="298.00" y1="411.20" x2="295.80" y2="411.20" stroke="#1a1a1a" stroke-width="0.80"/>
<line x1="82.50" y1="401.95" x2="84.70" y2="401.95" stroke="#1a1a1a" stroke-width="0.80"/>
<line x1="298.00" y1="401.95" x2="295.80" y2="401.95" stroke="#1a1a1a" stroke-width="0.80"/>
<line x1="82.50" y1="395.39" x2="84.70" y2="395.39" stroke="#1a1a1a" stroke-width="0.80"/>
<line x1="298.00" y1="395.39" x2="295.80" y2="395.39" stroke="#1a1a1a" stroke-width="0.80"/>
<line x1="82.50" y1="390.30" x2="84.70" y2="390.30" stroke="#1a1a1a" stroke-width="0.80"/>
<line x1="298.00" y1="390.30" x2="295.80" y2="390.30" stroke="#1a1a1a" stroke-width="0.80"/>
<line x1="82.50" y1="386.15" x2="84.70" y2="386.15" stroke="#1a1a1a" stroke-width="0.80"/>
<line x1="298.00" y1="386.15" x2="295.80" y2="386.15" stroke="#1a1a1a" stroke-width="0.80"/>
<line x1="82.50" y1="382.63" x2="84.70" y2="382.63" stroke="#1a1a1a" stroke-width="0.80"/>
<line x1="298.00" y1="382.63" x2="295.80" y2="382.63" stroke="#1a1a1a" stroke-width="0.80"/>
<line x1="82.50" y1="379.59" x2="84.70" y2="379.59" stroke="#1a1a1a" stroke-width="0.80"/>
<line x1="298.00" y1="379.59" x2="295.80" y2="379.59" stroke="#1a1a1a" stroke-width="0.80"/>
<line x1="82.50" y1="376.90" x2="84.70" y2="376.90" stroke="#1a1a1a" stroke-width="0.80"/>
<line x1="298.00" y1="376.90" x2="295.80" y2="376.90" stroke="#1a1a1a" stroke-width="0.80"/>
<line x1="82.50" y1="374.50" x2="87.00" y2="374.50" stroke="#1a1a1a" stroke-width="1.20"/>
<line x1="298.00" y1="374.50" x2="293.50" y2="374.50" stroke="#1a1a1a" stroke-width="1.20"/>
<line x1="82.50" y1="358.70" x2="84.70" y2="358.70" stroke="#1a1a1a" stroke-width="0.80"/>
<line x1="298.00" y1="358.70" x2="295.80" y2="358.70" stroke="#1a1a1a" stroke-width="0.80"/>
<line x1="82.50" y1="349.45" x2="84.70" y2="349.45" stroke="#1a1a1a" stroke-width="0.80"/>
<line x1="298.00" y1="349.45" x2="295.80" y2="349.45" stroke="#1a1a1a" stroke-width="0.80"/>
<line x1="82.50" y1="342.89" x2="84.70" y2="342.89" stroke="#1a1a1a" stroke-width="0.80"/>
<line x1="298.00" y1="342.89" x2="295.80" y2="342.89" stroke="#1a1a1a" stroke-width="0.80"/>
<line x1="82.50" y1="337.80" x2="84.70" y2="337.80" stroke="#1a1a1a" stroke-width="0.80"/>
<line x1="298.00" y1="337.80" x2="295.80" y2="337.80" stroke="#1a1a1a" stroke-width="0.80"/>
<line x1="82.50" y1="333.65" x2="84.70" y2="333.65" stroke="#1a1a1a" stroke-width="0.80"/>
<line x1="298.00" y1="333.65" x2="295.80" y2="333.65" stroke="#1a1a1a" stroke-width="0.80"/>
<line x1="82.50" y1="330.13" x2="84.70" y2="330.13" stroke="#1a1a1a" stroke-width="0.80"/>
<line x1="298.00" y1="330.13" x2="295.80" y2="330.13" stroke="#1a1a1a" stroke-width="0.80"/>
<line x1="82.50" y1="327.09" x2="84.70" y2="327.09" stroke="#1a1a1a" stroke-width="0.80"/>
<line x1="298.00" y1="327.09" x2="295.80" y2="327.09" stroke="#1a1a1a" stroke-width="0.80"/>
<line x1="82.50" y1="324.40" x2="84.70" y2="324.40" stroke="#1a1a1a" stroke-width="0.80"/>
<line x1="298.00" y1="324.40" x2="295.80" y2="324.40" stroke="#1a1a1a" stroke-width="0.80"/>
<line x1="82.50" y1="322.00" x2="87.00" y2="322.00" stroke="#1a1a1a" stroke-width="1.20"/>
<line x1="298.00" y1="322.00" x2="293.50" y2="322.00" stroke="#1a1a1a" stroke-width="1.20"/>
<line x1="82.50" y1="306.20" x2="84.70" y2="306.20" stroke="#1a1a1a" stroke-width="0.80"/>
<line x1="298.00" y1="306.20" x2="295.80" y2="306.20" stroke="#1a1a1a" stroke-width="0.80"/>
<line x1="82.50" y1="296.95" x2="84.70" y2="296.95" stroke="#1a1a1a" stroke-width="0.80"/>
<line x1="298.00" y1="296.95" x2="295.80" y2="296.95" stroke="#1a1a1a" stroke-width="0.80"/>
<line x1="82.50" y1="290.39" x2="84.70" y2="290.39" stroke="#1a1a1a" stroke-width="0.80"/>
<line x1="298.00" y1="290.39" x2="295.80" y2="290.39" stroke="#1a1a1a" stroke-width="0.80"/>
<line x1="82.50" y1="285.30" x2="84.70" y2="285.30" stroke="#1a1a1a" stroke-width="0.80"/>
<line x1="298.00" y1="285.30" x2="295.80" y2="285.30" stroke="#1a1a1a" stroke-width="0.80"/>
<line x1="82.50" y1="281.15" x2="84.70" y2="281.15" stroke="#1a1a1a" stroke-width="0.80"/>
<line x1="298.00" y1="281.15" x2="295.80" y2="281.15" stroke="#1a1a1a" stroke-width="0.80"/>
<line x1="82.50" y1="277.63" x2="84.70" y2="277.63" stroke="#1a1a1a" stroke-width="0.80"/>
<line x1="298.00" y1="277.63" x2="295.80" y2="277.63" stroke="#1a1a1a" stroke-width="0.80"/>
<line x1="82.50" y1="274.59" x2="84.70" y2="274.59" stroke="#1a1a1a" stroke-width="0.80"/>
<line x1="298.00" y1="274.59" x2="295.80" y2="274.59" stroke="#1a1a1a" stroke-width="0.80"/>
<line x1="82.50" y1="271.90" x2="84.70" y2="271.90" stroke="#1a1a1a" stroke-width="0.80"/>
<line x1="298.00" y1="271.90" x2="295.80" y2="271.90" stroke="#1a1a1a" stroke-width="0.80"/>
<line x1="82.50" y1="269.50" x2="87.00" y2="269.50" stroke="#1a1a1a" stroke-width="1.20"/>
<line x1="298.00" y1="269.50" x2="293.50" y2="269.50" stroke="#1a1a1a" stroke-width="1.20"/>
<line x1="82.50" y1="253.70" x2="84.70" y2="253.70" stroke="#1a1a1a" stroke-width="0.80"/>
<line x1="298.00" y1="253.70" x2="295.80" y2="253.70" stroke="#1a1a1a" stroke-width="0.80"/>
<line x1="82.50" y1="244.45" x2="84.70" y2="244.45" stroke="#1a1a1a" stroke-width="0.80"/>
<line x1="298.00" y1="244.45" x2="295.80" y2="244.45" stroke="#1a1a1a" stroke-width="0.80"/>
<line x1="82.50" y1="237.89" x2="84.70" y2="237.89" stroke="#1a1a1a" stroke-width="0.80"/>
<line x1="298.00" y1="237.89" x2="295.80" y2="237.89" stroke="#1a1a1a" stroke-width="0.80"/>
<line x1="82.50" y1="232.80" x2="84.70" y2="232.80" stroke="#1a1a1a" stroke-width="0.80"/>
<line x1="298.00" y1="232.80" x2="295.80" y2="232.80" stroke="#1a1a1a" stroke-width="0.80"/>
<line x1="82.50" y1="228.65" x2="84.70" y2="228.65" stroke="#1a1a1a" stroke-width="0.80"/>
<line x1="298.00" y1="228.65" x2="295.80" y2="228.65" stroke="#1a1a1a" stroke-width="0.80"/>
<line x1="82.50" y1="225.13" x2="84.70" y2="225.13" stroke="#1a1a1a" stroke-width="0.80"/>
<line x1="298.00" y1="225.13" x2="295.80" y2="225.13" stroke="#1a1a1a" stroke-width="0.80"/>
<line x1="82.50" y1="222.09" x2="84.70" y2="222.09" stroke="#1a1a1a" stroke-width="0.80"/>
<line x1="298.00" y1="222.09" x2="295.80" y2="222.09" stroke="#1a1a1a" stroke-width="0.80"/>
<line x1="82.50" y1="219.40" x2="84.70" y2="219.40" stroke="#1a1a1a" stroke-width="0.80"/>
<line x1="298.00" y1="219.40" x2="295.80" y2="219.40" stroke="#1a1a1a" stroke-width="0.80"/>
<line x1="82.50" y1="217.00" x2="87.00" y2="217.00" stroke="#1a1a1a" stroke-width="1.20"/>
<line x1="298.00" y1="217.00" x2="293.50" y2="217.00" stroke="#1a1a1a" stroke-width="1.20"/>
<rect x="302.50" y="217.00" width="215.50" height="210.00" fill="none" stroke="#1a1a1a" stroke-width="1.2"/>
<line x1="302.50" y1="427.00" x2="302.50" y2="422.50" stroke="#1a1a1a" stroke-width="1.20"/>
<line x1="302.50" y1="217.00" x2="302.50" y2="221.50" stroke="#1a1a1a" stroke-width="1.20"/>
<line x1="398.28" y1="427.00" x2="398.28" y2="422.50" stroke="#1a1a1a" stroke-width="1.20"/>
<line x1="398.28" y1="217.00" x2="398.28" y2="221.50" stroke="#1a1a1a" stroke-width="1.20"/>
<line x1="494.06" y1="427.00" x2="494.06" y2="422.50" stroke="#1a1a1a" stroke-width="1.20"/>
<line x1="494.06" y1="217.00" x2="494.06" y2="221.50" stroke="#1a1a1a" stroke-width="1.20"/>
<line x1="302.50" y1="427.00" x2="307.00" y2="427.00" stroke="#1a1a1a" stroke-width="1.20"/>
<line x1="518.00" y1="427.00" x2="513.50" y2="427.00" stroke="#1a1a1a" stroke-width="1.20"/>
<line x1="302.50" y1="411.20" x2="304.70" y2="411.20" stroke="#1a1a1a" stroke-width="0.80"/>
<line x1="518.00" y1="411.20" x2="515.80" y2="411.20" stroke="#1a1a1a" stroke-width="0.80"/>
<line x1="302.50" y1="401.95" x2="304.70" y2="401.95" stroke="#1a1a1a" stroke-width="0.80"/>
<line x1="518.00" y1="401.95" x2="515.80" y2="401.95" stroke="#1a1a1a" stroke-width="0.80"/>
<line x1="302.50" y1="395.39" x2="304.70" y2="395.39" stroke="#1a1a1a" stroke-width="0.80"/>
<line x1="518.00" y1="395.39" x2="515.80" y2="395.39" stroke="#1a1a1a" stroke-width="0.80"/>
<line x1="302.50" y1="390.30" x2="304.70" y2="390.30" stroke="#1a1a1a" stroke-width="0.80"/>
<line x1="518.00" y1="390.30" x2="515.80" y2="390.30" stroke="#1a1a1a" stroke-width="0.80"/>
<line x1="302.50" y1="386.15" x2="304.70" y2="386.15" stroke="#1a1a1a" stroke-width="0.80"/>
<line x1="518.00" y1="386.15" x2="515.80" y2="386.15" stroke="#1a1a1a" stroke-width="0.80"/>
<line x1="302.50" y1="382.63" x2="304.70" y2="382.63" stroke="#1a1a1a" stroke-width="0.80"/>
<line x1="518.00" y1="382.63" x2="515.80" y2="382.63" stroke="#1a1a1a" stroke-width="0.80"/>
<line x1="302.50" y1="379.59" x2="304.70" y2="379.59" stroke="#1a1a1a" stroke-width="0.80"/>
<line x1="518.00" y1="379.59" x2="515.80" y2="379.59" stroke="#1a1a1a" stroke-width="0.80"/>
<line x1="302.50" y1="376.90" x2="304.70" y2="376.90" stroke="#1a1a1a" stroke-width="0.80"/>
<line x1="518.00" y1="376.90" x2="515.80" y2="376.90" stroke="#1a1a1a" stroke-width="0.80"/>
<line x1="302.50" y1="374.50" x2="307.00" y2="374.50" stroke="#1a1a1a" stroke-width="1.20"/>
<line x1="518.00" y1="374.50" x2="513.50" y2="374.50" stroke="#1a1a1a" stroke-width="1.20"/>
<line x1="302.50" y1="358.70" x2="304.70" y2="358.70" stroke="#1a1a1a" stroke-width="0.80"/>
<line x1="518.00" y1="358.70" x2="515.80" y2="358.70" stroke="#1a1a1a" stroke-width="0.80"/>
<line x1="302.50" y1="349.45" x2="304.70" y2="349.45" stroke="#1a1a1a" stroke-width="0.80"/>
<line x1="518.00" y1="349.45" x2="515.80" y2="349.45" stroke="#1a1a1a" stroke-width="0.80"/>
<line x1="302.50" y1="342.89" x2="304.70" y2="342.89" stroke="#1a1a1a" stroke-width="0.80"/>
<line x1="518.00" y1="342.89" x2="515.80" y2="342.89" stroke="#1a1a1a" stroke-width="0.80"/>
<line x1="302.50" y1="337.80" x2="304.70" y2="337.80" stroke="#1a1a1a" stroke-width="0.80"/>
<line x1="518.00" y1="337.80" x2="515.80" y2="337.80" stroke="#1a1a1a" stroke-width="0.80"/>
<line x1="302.50" y1="333.65" x2="304.70" y2="333.65" stroke="#1a1a1a" stroke-width="0.80"/>
<line x1="518.00" y1="333.65" x2="515.80" y2="333.65" stroke="#1a1a1a" stroke-width="0.80"/>
<line x1="302.50" y1="330.13" x2="304.70" y2="330.13" stroke="#1a1a1a" stroke-width="0.80"/>
<line x1="518.00" y1="330.13" x2="515.80" y2="330.13" stroke="#1a1a1a" stroke-width="0.80"/>
<line x1="302.50" y1="327.09" x2="304.70" y2="327.09" stroke="#1a1a1a" stroke-width="0.80"/>
<line x1="518.00" y1="327.09" x2="515.80" y2="327.09" stroke="#1a1a1a" stroke-width="0.80"/>
<line x1="302.50" y1="324.40" x2="304.70" y2="324.40" stroke="#1a1a1a" stroke-width="0.80"/>
<line x1="518.00" y1="324.40" x2="515.80" y2="324.40" stroke="#1a1a1a" stroke-width="0.80"/>
<line x1="302.50" y1="322.00" x2="307.00" y2="322.00" stroke="#1a1a1a" stroke-width="1.20"/>
<line x1="518.00" y1="322.00" x2="513.50" y2="322.00" stroke="#1a1a1a" stroke-width="1.20"/>
<line x1="302.50" y1="306.20" x2="304.70" y2="306.20" stroke="#1a1a1a" stroke-width="0.80"/>
<line x1="518.00" y1="306.20" x2="515.80" y2="306.20" stroke="#1a1a1a" stroke-width="0.80"/>
<line x1="302.50" y1="296.95" x2="304.70" y2="296.95" stroke="#1a1a1a" stroke-width="0.80"/>
<line x1="518.00" y1="296.95" x2="515.80" y2="296.95" stroke="#1a1a1a" stroke-width="0.80"/>
<line x1="302.50" y1="290.39" x2="304.70" y2="290.39" stroke="#1a1a1a" stroke-width="0.80"/>
<line x1="518.00" y1="290.39" x2="515.80" y2="290.39" stroke="#1a1a1a" stroke-width="0.80"/>
<line x1="302.50" y1="285.30" x2="304.70" y2="285.30" stroke="#1a1a1a" stroke-width="0.80"/>
<line x1="518.00" y1="285.30" x2="515.80" y2="285.30" stroke="#1a1a1a" stroke-width="0.80"/>
<line x1="302.50" y1="281.15" x2="304.70" y2="281.15" stroke="#1a1a1a" stroke-width="0.80"/>
<line x1="518.00" y1="281.15" x2="515.80" y2="281.15" stroke="#1a1a1a" stroke-width="0.80"/>
<line x1="302.50" y1="277.63" x2="304.70" y2="277.63" stroke="#1a1a1a" stroke-width="0.80"/>
<line x1="518.00" y1="277.63" x2="515.80" y2="277.63" stroke="#1a1a1a" stroke-width="0.80"/>
<line x1="302.50" y1="274.59" x2="304.70" y2="274.59" stroke="#1a1a1a" stroke-width="0.80"/>
<line x1="518.00" y1="274.59" x2="515.80" y2="274.59" stroke="#1a1a1a" stroke-width="0.80"/>
<line x1="302.50" y1="271.90" x2="304.70" y2="271.90" stroke="#1a1a1a" stroke-width="0.80"/>
<line x1="518.00" y1="271.90" x2="515.80" y2="271.90" stroke="#1a1a1a" stroke-width="0.80"/>
<line x1="302.50" y1="269.50" x2="307.00" y2="269.50" stroke="#1a1a1a" stroke-width="1.20"/>
<line x1="518.00" y1="269.50" x2="513.50" y2="269.50" stroke="#1a1a1a" stroke-width="1.20"/>
<line x1="302.50" y1="253.70" x2="304.70" y2="253.70" stroke="#1a1a1a" stroke-width="0.80"/>
<line x1="518.00" y1="253.70" x2="515.80" y2="253.70" stroke="#1a1a1a" stroke-width="0.80"/>
<line x1="302.50" y1="244.45" x2="304.70" y2="244.45" stroke="#1a1a1a" stroke-width="0.80"/>
<line x1="518.00" y1="244.45" x2="515.80" y2="244.45" stroke="#1a1a1a" stroke-width="0.80"/>
<line x1="302.50" y1="237.89" x2="304.70" y2="237.89" stroke="#1a1a1a" stroke-width="0.80"/>
<line x1="518.00" y1="237.89" x2="515.80" y2="237.89" stroke="#1a1a1a" stroke-width="0.80"/>
<line x1="302.50" y1="232.80" x2="304.70" y2="232.80" stroke="#1a1a1a" stroke-width="0.80"/>
<line x1="518.00" y1="232.80" x2="515.80" y2="232.80" stroke="#1a1a1a" stroke-width="0.80"/>
<line x1="302.50" y1="228.65" x2="304.70" y2="228.65" stroke="#1a1a1a" stroke-width="0.80"/>
<line x1="518.00" y1="228.65" x2="515.80" y2="228.65" stroke="#1a1a1a" stroke-width="0.80"/>
<line x1="302.50" y1="225.13" x2="304.70" y2="225.13" stroke="#1a1a1a" stroke-width="0.80"/>
<line x1="518.00" y1="225.13" x2="515.80" y2="225.13" stroke="#1a1a1a" stroke-width="0.80"/>
<line x1="302.50" y1="222.09" x2="304.70" y2="222.09" stroke="#1a1a1a" stroke-width="0.80"/>
<line x1="518.00" y1="222.09" x2="515.80" y2="222.09" stroke="#1a1a1a" stroke-width="0.80"/>
<line x1="302.50" y1="219.40" x2="304.70" y2="219.40" stroke="#1a1a1a" stroke-width="0.80"/>
<line x1="518.00" y1="219.40" x2="515.80" y2="219.40" stroke="#1a1a1a" stroke-width="0.80"/>
<line x1="302.50" y1="217.00" x2="307.00" y2="217.00" stroke="#1a1a1a" stroke-width="1.20"/>
<line x1="518.00" y1="217.00" x2="513.50" y2="217.00" stroke="#1a1a1a" stroke-width="1.20"/>
<text x="78.00" y="210.46" font-size="16.90" text-anchor="end" fill="#000" stroke="#000" font-weight="normal" >3.225</text>
<text x="78.00" y="166.75" font-size="16.90" text-anchor="end" fill="#000" stroke="#000" font-weight="normal" >3.250</text>
<text x="78.00" y="123.04" font-size="16.90" text-anchor="end" fill="#000" stroke="#000" font-weight="normal" >3.275</text>
<text x="78.00" y="79.33" font-size="16.90" text-anchor="end" fill="#000" stroke="#000" font-weight="normal" >3.300</text>
<text x="78.00" y="35.63" font-size="16.90" text-anchor="end" fill="#000" stroke="#000" font-weight="normal" >3.325</text>
<text x="78" y="433.90" font-size="16.90" text-anchor="end" stroke="#000">10<tspan font-size="11.83" dy="-6.8">&#8722;2</tspan></text>
<text x="78" y="381.40" font-size="16.90" text-anchor="end" stroke="#000">10<tspan font-size="11.83" dy="-6.8">&#8722;1</tspan></text>
<text x="78" y="328.90" font-size="16.90" text-anchor="end" stroke="#000">10<tspan font-size="11.83" dy="-6.8">0</tspan></text>
<text x="78" y="276.40" font-size="16.90" text-anchor="end" stroke="#000">10<tspan font-size="11.83" dy="-6.8">1</tspan></text>
<text x="82.50" y="443.30" font-size="16.90" text-anchor="middle" fill="#000" stroke="#000" font-weight="normal" >0</text>
<text x="178.28" y="443.30" font-size="16.90" text-anchor="middle" fill="#000" stroke="#000" font-weight="normal" >20</text>
<text x="274.06" y="443.30" font-size="16.90" text-anchor="middle" fill="#000" stroke="#000" font-weight="normal" >40</text>
<text x="190.55" y="460.60" font-size="15.70" text-anchor="middle" fill="#000" stroke="#000" font-weight="normal" >r (&#956;m)</text>
<text x="302.50" y="443.30" font-size="16.90" text-anchor="middle" fill="#000" stroke="#000" font-weight="normal" >0</text>
<text x="398.28" y="443.30" font-size="16.90" text-anchor="middle" fill="#000" stroke="#000" font-weight="normal" >20</text>
<text x="494.06" y="443.30" font-size="16.90" text-anchor="middle" fill="#000" stroke="#000" font-weight="normal" >40</text>
<text x="410.55" y="460.60" font-size="15.70" text-anchor="middle" fill="#000" stroke="#000" font-weight="normal" >r (&#956;m)</text>
<text transform="translate(23.0,108.3) rotate(-90)" font-size="15.70" text-anchor="middle" stroke="#000">E<tspan font-size="10.68" font-style="italic" dy="2.3">IX</tspan><tspan dy="-2.3"> (eV)</tspan></text>
<text transform="translate(14.5,321.9) rotate(-90)" font-size="15.70" text-anchor="middle" stroke="#000">Integrated intensity</text>
<text transform="translate(32.4,320) rotate(-90)" font-size="15.70" text-anchor="middle" stroke="#000">(arb. units)</text>
<text x="232.00" y="30.00" font-size="15.30" text-anchor="middle" fill="#000" stroke="#000" font-weight="normal" >Sample A'</text>
<text x="178.90" y="50.70" font-size="15.30" fill="#1414d6" stroke="#1414d6">15423 W/cm<tspan font-size="10.71" dy="-6.5">2</tspan></text>
<text x="178.90" y="67.65" font-size="15.30" fill="#2030a8" stroke="#2030a8">6748 W/cm<tspan font-size="10.71" dy="-6.5">2</tspan></text>
<text x="178.90" y="84.60" font-size="15.30" fill="#2a5c98" stroke="#2a5c98">2829 W/cm<tspan font-size="10.71" dy="-6.5">2</tspan></text>
<text x="178.90" y="101.55" font-size="15.30" fill="#1d7373" stroke="#1d7373">1315 W/cm<tspan font-size="10.71" dy="-6.5">2</tspan></text>
<text x="452.00" y="30.00" font-size="15.30" text-anchor="middle" fill="#000" stroke="#000" font-weight="normal" >Sample B'</text>
<text x="398.90" y="50.70" font-size="15.30" fill="#2a8436" stroke="#2a8436">15423 W/cm<tspan font-size="10.71" dy="-6.5">2</tspan></text>
<text x="398.90" y="67.65" font-size="15.30" fill="#568c24" stroke="#568c24">6748 W/cm<tspan font-size="10.71" dy="-6.5">2</tspan></text>
<text x="398.90" y="84.60" font-size="15.30" fill="#acb21c" stroke="#acb21c">2829 W/cm<tspan font-size="10.71" dy="-6.5">2</tspan></text>
<text x="398.90" y="101.55" font-size="15.30" fill="#efd21c" stroke="#efd21c">1315 W/cm<tspan font-size="10.71" dy="-6.5">2</tspan></text>
<text x="88.0" y="167.3" font-size="14.6" fill="#dc1c38" stroke="#dc1c38">E<tspan font-size="10.2" dy="2.8" font-style="italic">A&#8242;</tspan><tspan font-size="10.2">0</tspan></text>
<text x="308.2" y="209.6" font-size="14.6" fill="#dc1c38" stroke="#dc1c38">E<tspan font-size="10.2" dy="2.8" font-style="italic">B&#8242;</tspan><tspan font-size="10.2">0</tspan></text>
</svg>
</body></html>
